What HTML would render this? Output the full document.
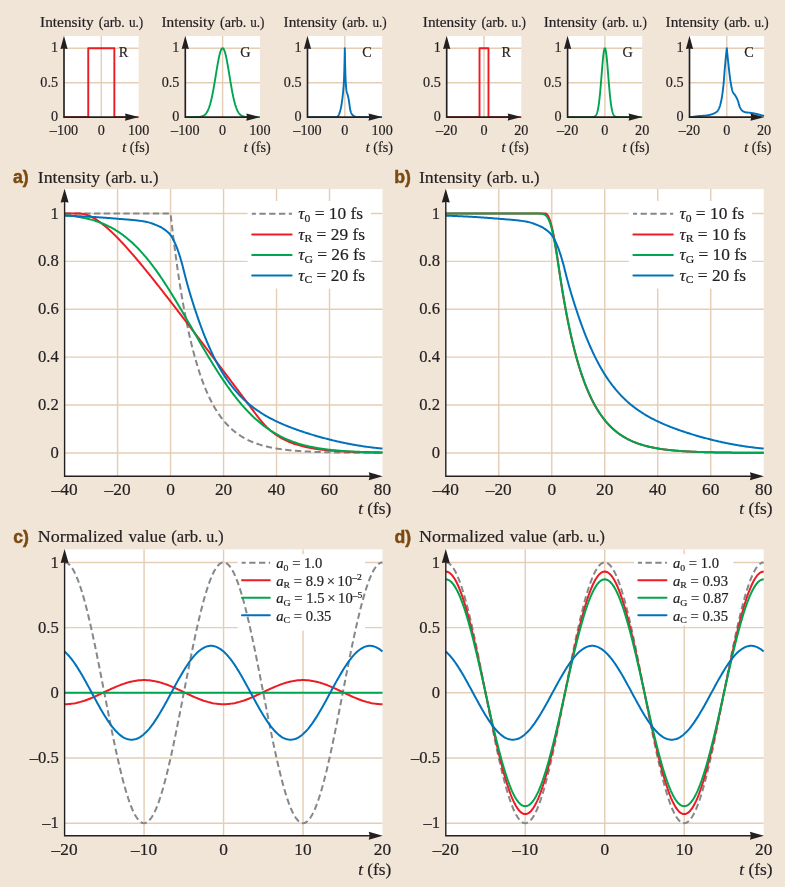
<!DOCTYPE html>
<html lang="en"><head><meta charset="utf-8"><title>Figure</title>
<style>html,body{margin:0;padding:0;background:#f1e5d8}body{width:785px;height:887px;overflow:hidden}</style></head>
<body>
<svg width="785" height="887" viewBox="0 0 785 887" style="display:block">
<rect width="785" height="887" fill="#f1e5d8"/>
<rect x="64" y="36" width="74.6" height="81.1" fill="#fff"/>
<path d="M64 48.2 H138.6" stroke="#e5ceb5" stroke-width="1.45" fill="none"/>
<path d="M64 82.65 H138.6" stroke="#e5ceb5" stroke-width="1.45" fill="none"/>
<path d="M101.3 36 V117.1" stroke="#e5ceb5" stroke-width="1.45" fill="none"/>
<path d="M64 117.1 L88.25 117.1 L88.25 48.2 L114.35 48.2 L114.35 117.1 L138.6 117.1" stroke="#ec1c24" stroke-width="1.9" fill="none" stroke-linejoin="round"/>
<path d="M64 44 V117.1 H130.6" stroke="#231f20" stroke-width="1.65" fill="none"/>
<path d="M64 35.8 L60.4 49 L64 48.6 L67.6 49 Z" fill="#231f20"/>
<path d="M138.8 117.1 L125 113.5 L125.8 117.1 L125 120.7 Z" fill="#231f20"/>
<text y="27.3" font-family="'Liberation Serif', serif" font-size="14.2" fill="#231f20" stroke="#231f20" stroke-width="0.2"><tspan x="40.1" textLength="53.6" lengthAdjust="spacingAndGlyphs">Intensity</tspan> <tspan x="98.7" textLength="26.2" lengthAdjust="spacingAndGlyphs">(arb.</tspan> <tspan x="128.9" textLength="14.3" lengthAdjust="spacingAndGlyphs">u.)</tspan></text>
<text transform="translate(58.1 52.1) scale(1.0 1)" font-family="'Liberation Serif', serif" font-size="14.2" text-anchor="end" fill="#231f20" stroke="#231f20" stroke-width="0.2">1</text>
<text transform="translate(58.1 86.55) scale(1.0 1)" font-family="'Liberation Serif', serif" font-size="14.2" text-anchor="end" fill="#231f20" stroke="#231f20" stroke-width="0.2">0.5</text>
<text transform="translate(58.1 121) scale(1.0 1)" font-family="'Liberation Serif', serif" font-size="14.2" text-anchor="end" fill="#231f20" stroke="#231f20" stroke-width="0.2">0</text>
<text transform="translate(64 134.6) scale(1.0 1)" font-family="'Liberation Serif', serif" font-size="14.2" text-anchor="middle" fill="#231f20" stroke="#231f20" stroke-width="0.2">–100</text>
<text transform="translate(101.3 134.6) scale(1.0 1)" font-family="'Liberation Serif', serif" font-size="14.2" text-anchor="middle" fill="#231f20" stroke="#231f20" stroke-width="0.2">0</text>
<text transform="translate(138.6 134.6) scale(1.0 1)" font-family="'Liberation Serif', serif" font-size="14.2" text-anchor="middle" fill="#231f20" stroke="#231f20" stroke-width="0.2">100</text>
<text transform="translate(149.55 151.5) scale(1.0 1)" font-family="'Liberation Serif', serif" font-size="14.2" text-anchor="end" fill="#231f20" stroke="#231f20" stroke-width="0.2"><tspan font-style="italic">t</tspan> (fs)</text>
<text transform="translate(118.83 57.4) scale(1.0 1)" font-family="'Liberation Serif', serif" font-size="14.2" text-anchor="start" fill="#231f20" stroke="#231f20" stroke-width="0.2">R</text>
<rect x="185.3" y="36" width="74.6" height="81.1" fill="#fff"/>
<path d="M185.3 48.2 H259.9" stroke="#e5ceb5" stroke-width="1.45" fill="none"/>
<path d="M185.3 82.65 H259.9" stroke="#e5ceb5" stroke-width="1.45" fill="none"/>
<path d="M222.6 36 V117.1" stroke="#e5ceb5" stroke-width="1.45" fill="none"/>
<path d="M185.3 117.1 L185.49 117.1 L185.67 117.1 L185.86 117.1 L186.05 117.1 L186.23 117.1 L186.42 117.1 L186.61 117.1 L186.79 117.1 L186.98 117.1 L187.17 117.1 L187.35 117.1 L187.54 117.1 L187.72 117.1 L187.91 117.1 L188.1 117.1 L188.28 117.1 L188.47 117.1 L188.66 117.1 L188.84 117.1 L189.03 117.1 L189.22 117.1 L189.4 117.1 L189.59 117.1 L189.78 117.1 L189.96 117.1 L190.15 117.1 L190.34 117.1 L190.52 117.1 L190.71 117.1 L190.9 117.1 L191.08 117.1 L191.27 117.1 L191.45 117.1 L191.64 117.1 L191.83 117.1 L192.01 117.1 L192.2 117.1 L192.39 117.1 L192.57 117.1 L192.76 117.1 L192.95 117.09 L193.13 117.09 L193.32 117.09 L193.51 117.09 L193.69 117.09 L193.88 117.09 L194.07 117.09 L194.25 117.09 L194.44 117.09 L194.63 117.09 L194.81 117.08 L195 117.08 L195.18 117.08 L195.37 117.08 L195.56 117.07 L195.74 117.07 L195.93 117.07 L196.12 117.06 L196.3 117.06 L196.49 117.06 L196.68 117.05 L196.86 117.05 L197.05 117.04 L197.24 117.03 L197.42 117.03 L197.61 117.02 L197.8 117.01 L197.98 117 L198.17 116.99 L198.36 116.98 L198.54 116.97 L198.73 116.95 L198.91 116.94 L199.1 116.92 L199.29 116.9 L199.47 116.88 L199.66 116.86 L199.85 116.84 L200.03 116.82 L200.22 116.79 L200.41 116.76 L200.59 116.73 L200.78 116.69 L200.97 116.66 L201.15 116.62 L201.34 116.57 L201.53 116.53 L201.71 116.47 L201.9 116.42 L202.09 116.36 L202.27 116.3 L202.46 116.23 L202.64 116.16 L202.83 116.08 L203.02 116 L203.2 115.91 L203.39 115.81 L203.58 115.71 L203.76 115.6 L203.95 115.48 L204.14 115.35 L204.32 115.22 L204.51 115.08 L204.7 114.92 L204.88 114.76 L205.07 114.59 L205.26 114.41 L205.44 114.21 L205.63 114.01 L205.82 113.79 L206 113.56 L206.19 113.32 L206.37 113.06 L206.56 112.79 L206.75 112.51 L206.93 112.21 L207.12 111.89 L207.31 111.56 L207.49 111.21 L207.68 110.84 L207.87 110.46 L208.05 110.06 L208.24 109.64 L208.43 109.2 L208.61 108.74 L208.8 108.26 L208.99 107.75 L209.17 107.23 L209.36 106.69 L209.55 106.12 L209.73 105.54 L209.92 104.93 L210.1 104.3 L210.29 103.64 L210.48 102.96 L210.66 102.26 L210.85 101.54 L211.04 100.79 L211.22 100.02 L211.41 99.23 L211.6 98.42 L211.78 97.58 L211.97 96.72 L212.16 95.84 L212.34 94.93 L212.53 94.01 L212.72 93.06 L212.9 92.1 L213.09 91.11 L213.28 90.11 L213.46 89.09 L213.65 88.05 L213.83 87 L214.02 85.93 L214.21 84.85 L214.39 83.76 L214.58 82.65 L214.77 81.53 L214.95 80.41 L215.14 79.28 L215.33 78.14 L215.51 77 L215.7 75.86 L215.89 74.71 L216.07 73.57 L216.26 72.43 L216.45 71.29 L216.63 70.16 L216.82 69.04 L217.01 67.93 L217.19 66.83 L217.38 65.75 L217.56 64.68 L217.75 63.62 L217.94 62.59 L218.12 61.58 L218.31 60.59 L218.5 59.63 L218.68 58.7 L218.87 57.79 L219.06 56.92 L219.24 56.08 L219.43 55.27 L219.62 54.5 L219.8 53.77 L219.99 53.08 L220.18 52.43 L220.36 51.82 L220.55 51.26 L220.74 50.74 L220.92 50.26 L221.11 49.83 L221.29 49.45 L221.48 49.12 L221.67 48.84 L221.85 48.61 L222.04 48.43 L222.23 48.3 L222.41 48.23 L222.6 48.2 L222.79 48.23 L222.97 48.3 L223.16 48.43 L223.35 48.61 L223.53 48.84 L223.72 49.12 L223.91 49.45 L224.09 49.83 L224.28 50.26 L224.47 50.74 L224.65 51.26 L224.84 51.82 L225.02 52.43 L225.21 53.08 L225.4 53.77 L225.58 54.5 L225.77 55.27 L225.96 56.08 L226.14 56.92 L226.33 57.79 L226.52 58.7 L226.7 59.63 L226.89 60.59 L227.08 61.58 L227.26 62.59 L227.45 63.62 L227.64 64.68 L227.82 65.75 L228.01 66.83 L228.2 67.93 L228.38 69.04 L228.57 70.16 L228.75 71.29 L228.94 72.43 L229.13 73.57 L229.31 74.71 L229.5 75.86 L229.69 77 L229.87 78.14 L230.06 79.28 L230.25 80.41 L230.43 81.53 L230.62 82.65 L230.81 83.76 L230.99 84.85 L231.18 85.93 L231.37 87 L231.55 88.05 L231.74 89.09 L231.93 90.11 L232.11 91.11 L232.3 92.1 L232.48 93.06 L232.67 94.01 L232.86 94.93 L233.04 95.84 L233.23 96.72 L233.42 97.58 L233.6 98.42 L233.79 99.23 L233.98 100.02 L234.16 100.79 L234.35 101.54 L234.54 102.26 L234.72 102.96 L234.91 103.64 L235.1 104.3 L235.28 104.93 L235.47 105.54 L235.66 106.12 L235.84 106.69 L236.03 107.23 L236.21 107.75 L236.4 108.26 L236.59 108.74 L236.77 109.2 L236.96 109.64 L237.15 110.06 L237.33 110.46 L237.52 110.84 L237.71 111.21 L237.89 111.56 L238.08 111.89 L238.27 112.21 L238.45 112.51 L238.64 112.79 L238.83 113.06 L239.01 113.32 L239.2 113.56 L239.39 113.79 L239.57 114.01 L239.76 114.21 L239.94 114.41 L240.13 114.59 L240.32 114.76 L240.5 114.92 L240.69 115.08 L240.88 115.22 L241.06 115.35 L241.25 115.48 L241.44 115.6 L241.62 115.71 L241.81 115.81 L242 115.91 L242.18 116 L242.37 116.08 L242.56 116.16 L242.74 116.23 L242.93 116.3 L243.12 116.36 L243.3 116.42 L243.49 116.47 L243.67 116.53 L243.86 116.57 L244.05 116.62 L244.23 116.66 L244.42 116.69 L244.61 116.73 L244.79 116.76 L244.98 116.79 L245.17 116.82 L245.35 116.84 L245.54 116.86 L245.73 116.88 L245.91 116.9 L246.1 116.92 L246.29 116.94 L246.47 116.95 L246.66 116.97 L246.85 116.98 L247.03 116.99 L247.22 117 L247.4 117.01 L247.59 117.02 L247.78 117.03 L247.96 117.03 L248.15 117.04 L248.34 117.05 L248.52 117.05 L248.71 117.06 L248.9 117.06 L249.08 117.06 L249.27 117.07 L249.46 117.07 L249.64 117.07 L249.83 117.08 L250.02 117.08 L250.2 117.08 L250.39 117.08 L250.58 117.09 L250.76 117.09 L250.95 117.09 L251.13 117.09 L251.32 117.09 L251.51 117.09 L251.69 117.09 L251.88 117.09 L252.07 117.09 L252.25 117.09 L252.44 117.1 L252.63 117.1 L252.81 117.1 L253 117.1 L253.19 117.1 L253.37 117.1 L253.56 117.1 L253.75 117.1 L253.93 117.1 L254.12 117.1 L254.31 117.1 L254.49 117.1 L254.68 117.1 L254.86 117.1 L255.05 117.1 L255.24 117.1 L255.42 117.1 L255.61 117.1 L255.8 117.1 L255.98 117.1 L256.17 117.1 L256.36 117.1 L256.54 117.1 L256.73 117.1 L256.92 117.1 L257.1 117.1 L257.29 117.1 L257.48 117.1 L257.66 117.1 L257.85 117.1 L258.04 117.1 L258.22 117.1 L258.41 117.1 L258.59 117.1 L258.78 117.1 L258.97 117.1 L259.15 117.1 L259.34 117.1 L259.53 117.1 L259.71 117.1 L259.9 117.1" stroke="#00a550" stroke-width="1.9" fill="none" stroke-linejoin="round"/>
<path d="M185.3 44 V117.1 H251.9" stroke="#231f20" stroke-width="1.65" fill="none"/>
<path d="M185.3 35.8 L181.7 49 L185.3 48.6 L188.9 49 Z" fill="#231f20"/>
<path d="M260.1 117.1 L246.3 113.5 L247.1 117.1 L246.3 120.7 Z" fill="#231f20"/>
<text y="27.3" font-family="'Liberation Serif', serif" font-size="14.2" fill="#231f20" stroke="#231f20" stroke-width="0.2"><tspan x="161.4" textLength="53.6" lengthAdjust="spacingAndGlyphs">Intensity</tspan> <tspan x="220" textLength="26.2" lengthAdjust="spacingAndGlyphs">(arb.</tspan> <tspan x="250.2" textLength="14.3" lengthAdjust="spacingAndGlyphs">u.)</tspan></text>
<text transform="translate(179.4 52.1) scale(1.0 1)" font-family="'Liberation Serif', serif" font-size="14.2" text-anchor="end" fill="#231f20" stroke="#231f20" stroke-width="0.2">1</text>
<text transform="translate(179.4 86.55) scale(1.0 1)" font-family="'Liberation Serif', serif" font-size="14.2" text-anchor="end" fill="#231f20" stroke="#231f20" stroke-width="0.2">0.5</text>
<text transform="translate(179.4 121) scale(1.0 1)" font-family="'Liberation Serif', serif" font-size="14.2" text-anchor="end" fill="#231f20" stroke="#231f20" stroke-width="0.2">0</text>
<text transform="translate(185.3 134.6) scale(1.0 1)" font-family="'Liberation Serif', serif" font-size="14.2" text-anchor="middle" fill="#231f20" stroke="#231f20" stroke-width="0.2">–100</text>
<text transform="translate(222.6 134.6) scale(1.0 1)" font-family="'Liberation Serif', serif" font-size="14.2" text-anchor="middle" fill="#231f20" stroke="#231f20" stroke-width="0.2">0</text>
<text transform="translate(259.9 134.6) scale(1.0 1)" font-family="'Liberation Serif', serif" font-size="14.2" text-anchor="middle" fill="#231f20" stroke="#231f20" stroke-width="0.2">100</text>
<text transform="translate(270.85 151.5) scale(1.0 1)" font-family="'Liberation Serif', serif" font-size="14.2" text-anchor="end" fill="#231f20" stroke="#231f20" stroke-width="0.2"><tspan font-style="italic">t</tspan> (fs)</text>
<text transform="translate(240.13 57.4) scale(1.0 1)" font-family="'Liberation Serif', serif" font-size="14.2" text-anchor="start" fill="#231f20" stroke="#231f20" stroke-width="0.2">G</text>
<rect x="307.5" y="36" width="74.6" height="81.1" fill="#fff"/>
<path d="M307.5 48.2 H382.1" stroke="#e5ceb5" stroke-width="1.45" fill="none"/>
<path d="M307.5 82.65 H382.1" stroke="#e5ceb5" stroke-width="1.45" fill="none"/>
<path d="M344.8 36 V117.1" stroke="#e5ceb5" stroke-width="1.45" fill="none"/>
<path d="M307.5 117.1 L307.69 117.1 L307.87 117.1 L308.06 117.1 L308.25 117.1 L308.43 117.1 L308.62 117.1 L308.81 117.1 L308.99 117.1 L309.18 117.1 L309.37 117.1 L309.55 117.1 L309.74 117.1 L309.92 117.1 L310.11 117.1 L310.3 117.1 L310.48 117.1 L310.67 117.1 L310.86 117.1 L311.04 117.1 L311.23 117.1 L311.42 117.1 L311.6 117.1 L311.79 117.1 L311.98 117.1 L312.16 117.1 L312.35 117.1 L312.54 117.1 L312.72 117.1 L312.91 117.1 L313.1 117.1 L313.28 117.1 L313.47 117.1 L313.65 117.1 L313.84 117.1 L314.03 117.1 L314.21 117.1 L314.4 117.1 L314.59 117.1 L314.77 117.1 L314.96 117.1 L315.15 117.1 L315.33 117.1 L315.52 117.1 L315.71 117.1 L315.89 117.1 L316.08 117.1 L316.27 117.1 L316.45 117.1 L316.64 117.1 L316.82 117.1 L317.01 117.1 L317.2 117.1 L317.38 117.1 L317.57 117.1 L317.76 117.1 L317.94 117.1 L318.13 117.1 L318.32 117.1 L318.5 117.1 L318.69 117.1 L318.88 117.1 L319.06 117.1 L319.25 117.1 L319.44 117.1 L319.62 117.1 L319.81 117.1 L320 117.1 L320.18 117.1 L320.37 117.1 L320.56 117.1 L320.74 117.1 L320.93 117.1 L321.11 117.1 L321.3 117.1 L321.49 117.1 L321.67 117.1 L321.86 117.1 L322.05 117.1 L322.23 117.1 L322.42 117.1 L322.61 117.1 L322.79 117.1 L322.98 117.1 L323.17 117.1 L323.35 117.1 L323.54 117.1 L323.73 117.1 L323.91 117.1 L324.1 117.1 L324.29 117.1 L324.47 117.1 L324.66 117.1 L324.84 117.1 L325.03 117.1 L325.22 117.1 L325.4 117.1 L325.59 117.1 L325.78 117.1 L325.96 117.1 L326.15 117.1 L326.34 117.1 L326.52 117.1 L326.71 117.1 L326.9 117.1 L327.08 117.1 L327.27 117.1 L327.46 117.1 L327.64 117.1 L327.83 117.1 L328.01 117.1 L328.2 117.1 L328.39 117.1 L328.57 117.1 L328.76 117.1 L328.95 117.1 L329.13 117.1 L329.32 117.1 L329.51 117.1 L329.69 117.1 L329.88 117.1 L330.07 117.1 L330.25 117.1 L330.44 117.1 L330.63 117.1 L330.81 117.1 L331 117.1 L331.19 117.1 L331.37 117.1 L331.56 117.1 L331.75 117.1 L331.93 117.1 L332.12 117.1 L332.3 117.1 L332.49 117.1 L332.68 117.1 L332.86 117.1 L333.05 117.1 L333.24 117.1 L333.42 117.1 L333.61 117.1 L333.8 117.1 L333.98 117.1 L334.17 117.1 L334.36 117.1 L334.54 117.1 L334.73 117.1 L334.92 117.1 L335.1 117.1 L335.29 117.1 L335.48 117.1 L335.66 117.1 L335.85 117.1 L336.03 117.1 L336.22 117.1 L336.41 117.1 L336.59 117.1 L336.78 117.09 L336.97 117.03 L337.15 116.93 L337.34 116.79 L337.53 116.6 L337.71 116.39 L337.9 116.15 L338.09 115.88 L338.27 115.6 L338.46 115.3 L338.65 115 L338.83 114.69 L339.02 114.34 L339.2 113.93 L339.39 113.45 L339.58 112.92 L339.76 112.34 L339.95 111.72 L340.14 111.06 L340.32 110.37 L340.51 109.65 L340.7 108.87 L340.88 108.02 L341.07 107.09 L341.26 106.09 L341.44 105.02 L341.63 103.89 L341.82 102.71 L342 101.46 L342.19 100.12 L342.38 98.68 L342.56 97.13 L342.75 95.46 L342.94 93.67 L343.12 91.73 L343.31 89.7 L343.49 87.54 L343.68 85.08 L343.87 82.13 L344.05 78.52 L344.24 73.36 L344.43 66.26 L344.61 57.7 L344.8 48.2 L344.99 57.81 L345.17 66.44 L345.36 73.53 L345.55 78.52 L345.73 81.99 L345.92 84.92 L346.11 87.3 L346.29 89.14 L346.48 90.45 L346.67 91.44 L346.85 92.25 L347.04 92.91 L347.22 93.49 L347.41 94.04 L347.6 94.58 L347.78 95.19 L347.97 95.9 L348.16 96.74 L348.34 97.68 L348.53 98.68 L348.72 99.74 L348.9 100.85 L349.09 101.99 L349.28 103.23 L349.46 104.66 L349.65 106.16 L349.84 107.6 L350.02 108.86 L350.21 109.8 L350.4 110.51 L350.58 111.16 L350.77 111.75 L350.95 112.29 L351.14 112.77 L351.33 113.2 L351.51 113.58 L351.7 113.91 L351.89 114.19 L352.07 114.44 L352.26 114.68 L352.45 114.9 L352.63 115.1 L352.82 115.29 L353.01 115.46 L353.19 115.62 L353.38 115.76 L353.57 115.89 L353.75 116.01 L353.94 116.12 L354.12 116.21 L354.31 116.31 L354.5 116.4 L354.68 116.5 L354.87 116.59 L355.06 116.67 L355.24 116.75 L355.43 116.83 L355.62 116.89 L355.8 116.95 L355.99 117 L356.18 117.04 L356.36 117.07 L356.55 117.09 L356.74 117.1 L356.92 117.1 L357.11 117.1 L357.3 117.1 L357.48 117.1 L357.67 117.1 L357.86 117.1 L358.04 117.1 L358.23 117.1 L358.41 117.1 L358.6 117.1 L358.79 117.1 L358.97 117.1 L359.16 117.1 L359.35 117.1 L359.53 117.1 L359.72 117.1 L359.91 117.1 L360.09 117.1 L360.28 117.1 L360.47 117.1 L360.65 117.1 L360.84 117.1 L361.03 117.1 L361.21 117.1 L361.4 117.1 L361.59 117.1 L361.77 117.1 L361.96 117.1 L362.14 117.1 L362.33 117.1 L362.52 117.1 L362.7 117.1 L362.89 117.1 L363.08 117.1 L363.26 117.1 L363.45 117.1 L363.64 117.1 L363.82 117.1 L364.01 117.1 L364.2 117.1 L364.38 117.1 L364.57 117.1 L364.76 117.1 L364.94 117.1 L365.13 117.1 L365.31 117.1 L365.5 117.1 L365.69 117.1 L365.87 117.1 L366.06 117.1 L366.25 117.1 L366.43 117.1 L366.62 117.1 L366.81 117.1 L366.99 117.1 L367.18 117.1 L367.37 117.1 L367.55 117.1 L367.74 117.1 L367.93 117.1 L368.11 117.1 L368.3 117.1 L368.49 117.1 L368.67 117.1 L368.86 117.1 L369.05 117.1 L369.23 117.1 L369.42 117.1 L369.6 117.1 L369.79 117.1 L369.98 117.1 L370.16 117.1 L370.35 117.1 L370.54 117.1 L370.72 117.1 L370.91 117.1 L371.1 117.1 L371.28 117.1 L371.47 117.1 L371.66 117.1 L371.84 117.1 L372.03 117.1 L372.22 117.1 L372.4 117.1 L372.59 117.1 L372.78 117.1 L372.96 117.1 L373.15 117.1 L373.33 117.1 L373.52 117.1 L373.71 117.1 L373.89 117.1 L374.08 117.1 L374.27 117.1 L374.45 117.1 L374.64 117.1 L374.83 117.1 L375.01 117.1 L375.2 117.1 L375.39 117.1 L375.57 117.1 L375.76 117.1 L375.95 117.1 L376.13 117.1 L376.32 117.1 L376.5 117.1 L376.69 117.1 L376.88 117.1 L377.06 117.1 L377.25 117.1 L377.44 117.1 L377.62 117.1 L377.81 117.1 L378 117.1 L378.18 117.1 L378.37 117.1 L378.56 117.1 L378.74 117.1 L378.93 117.1 L379.12 117.1 L379.3 117.1 L379.49 117.1 L379.68 117.1 L379.86 117.1 L380.05 117.1 L380.24 117.1 L380.42 117.1 L380.61 117.1 L380.79 117.1 L380.98 117.1 L381.17 117.1 L381.35 117.1 L381.54 117.1 L381.73 117.1 L381.91 117.1 L382.1 117.1" stroke="#0072bc" stroke-width="1.9" fill="none" stroke-linejoin="round"/>
<path d="M307.5 44 V117.1 H374.1" stroke="#231f20" stroke-width="1.65" fill="none"/>
<path d="M307.5 35.8 L303.9 49 L307.5 48.6 L311.1 49 Z" fill="#231f20"/>
<path d="M382.3 117.1 L368.5 113.5 L369.3 117.1 L368.5 120.7 Z" fill="#231f20"/>
<text y="27.3" font-family="'Liberation Serif', serif" font-size="14.2" fill="#231f20" stroke="#231f20" stroke-width="0.2"><tspan x="283.6" textLength="53.6" lengthAdjust="spacingAndGlyphs">Intensity</tspan> <tspan x="342.2" textLength="26.2" lengthAdjust="spacingAndGlyphs">(arb.</tspan> <tspan x="372.4" textLength="14.3" lengthAdjust="spacingAndGlyphs">u.)</tspan></text>
<text transform="translate(301.6 52.1) scale(1.0 1)" font-family="'Liberation Serif', serif" font-size="14.2" text-anchor="end" fill="#231f20" stroke="#231f20" stroke-width="0.2">1</text>
<text transform="translate(301.6 86.55) scale(1.0 1)" font-family="'Liberation Serif', serif" font-size="14.2" text-anchor="end" fill="#231f20" stroke="#231f20" stroke-width="0.2">0.5</text>
<text transform="translate(301.6 121) scale(1.0 1)" font-family="'Liberation Serif', serif" font-size="14.2" text-anchor="end" fill="#231f20" stroke="#231f20" stroke-width="0.2">0</text>
<text transform="translate(307.5 134.6) scale(1.0 1)" font-family="'Liberation Serif', serif" font-size="14.2" text-anchor="middle" fill="#231f20" stroke="#231f20" stroke-width="0.2">–100</text>
<text transform="translate(344.8 134.6) scale(1.0 1)" font-family="'Liberation Serif', serif" font-size="14.2" text-anchor="middle" fill="#231f20" stroke="#231f20" stroke-width="0.2">0</text>
<text transform="translate(382.1 134.6) scale(1.0 1)" font-family="'Liberation Serif', serif" font-size="14.2" text-anchor="middle" fill="#231f20" stroke="#231f20" stroke-width="0.2">100</text>
<text transform="translate(393.05 151.5) scale(1.0 1)" font-family="'Liberation Serif', serif" font-size="14.2" text-anchor="end" fill="#231f20" stroke="#231f20" stroke-width="0.2"><tspan font-style="italic">t</tspan> (fs)</text>
<text transform="translate(362.33 57.4) scale(1.0 1)" font-family="'Liberation Serif', serif" font-size="14.2" text-anchor="start" fill="#231f20" stroke="#231f20" stroke-width="0.2">C</text>
<rect x="446.7" y="36" width="74.6" height="81.1" fill="#fff"/>
<path d="M446.7 48.2 H521.3" stroke="#e5ceb5" stroke-width="1.45" fill="none"/>
<path d="M446.7 82.65 H521.3" stroke="#e5ceb5" stroke-width="1.45" fill="none"/>
<path d="M484 36 V117.1" stroke="#e5ceb5" stroke-width="1.45" fill="none"/>
<path d="M446.7 117.1 L479.52 117.1 L479.52 48.2 L488.48 48.2 L488.48 117.1 L521.3 117.1" stroke="#ec1c24" stroke-width="1.9" fill="none" stroke-linejoin="round"/>
<path d="M446.7 44 V117.1 H513.3" stroke="#231f20" stroke-width="1.65" fill="none"/>
<path d="M446.7 35.8 L443.1 49 L446.7 48.6 L450.3 49 Z" fill="#231f20"/>
<path d="M521.5 117.1 L507.7 113.5 L508.5 117.1 L507.7 120.7 Z" fill="#231f20"/>
<text y="27.3" font-family="'Liberation Serif', serif" font-size="14.2" fill="#231f20" stroke="#231f20" stroke-width="0.2"><tspan x="422.8" textLength="53.6" lengthAdjust="spacingAndGlyphs">Intensity</tspan> <tspan x="481.4" textLength="26.2" lengthAdjust="spacingAndGlyphs">(arb.</tspan> <tspan x="511.6" textLength="14.3" lengthAdjust="spacingAndGlyphs">u.)</tspan></text>
<text transform="translate(440.8 52.1) scale(1.0 1)" font-family="'Liberation Serif', serif" font-size="14.2" text-anchor="end" fill="#231f20" stroke="#231f20" stroke-width="0.2">1</text>
<text transform="translate(440.8 86.55) scale(1.0 1)" font-family="'Liberation Serif', serif" font-size="14.2" text-anchor="end" fill="#231f20" stroke="#231f20" stroke-width="0.2">0.5</text>
<text transform="translate(440.8 121) scale(1.0 1)" font-family="'Liberation Serif', serif" font-size="14.2" text-anchor="end" fill="#231f20" stroke="#231f20" stroke-width="0.2">0</text>
<text transform="translate(446.7 134.6) scale(1.0 1)" font-family="'Liberation Serif', serif" font-size="14.2" text-anchor="middle" fill="#231f20" stroke="#231f20" stroke-width="0.2">–20</text>
<text transform="translate(484 134.6) scale(1.0 1)" font-family="'Liberation Serif', serif" font-size="14.2" text-anchor="middle" fill="#231f20" stroke="#231f20" stroke-width="0.2">0</text>
<text transform="translate(521.3 134.6) scale(1.0 1)" font-family="'Liberation Serif', serif" font-size="14.2" text-anchor="middle" fill="#231f20" stroke="#231f20" stroke-width="0.2">20</text>
<text transform="translate(528.7 151.5) scale(1.0 1)" font-family="'Liberation Serif', serif" font-size="14.2" text-anchor="end" fill="#231f20" stroke="#231f20" stroke-width="0.2"><tspan font-style="italic">t</tspan> (fs)</text>
<text transform="translate(501.53 57.4) scale(1.0 1)" font-family="'Liberation Serif', serif" font-size="14.2" text-anchor="start" fill="#231f20" stroke="#231f20" stroke-width="0.2">R</text>
<rect x="567.6" y="36" width="74.6" height="81.1" fill="#fff"/>
<path d="M567.6 48.2 H642.2" stroke="#e5ceb5" stroke-width="1.45" fill="none"/>
<path d="M567.6 82.65 H642.2" stroke="#e5ceb5" stroke-width="1.45" fill="none"/>
<path d="M604.9 36 V117.1" stroke="#e5ceb5" stroke-width="1.45" fill="none"/>
<path d="M567.6 117.1 L567.79 117.1 L567.97 117.1 L568.16 117.1 L568.35 117.1 L568.53 117.1 L568.72 117.1 L568.91 117.1 L569.09 117.1 L569.28 117.1 L569.47 117.1 L569.65 117.1 L569.84 117.1 L570.02 117.1 L570.21 117.1 L570.4 117.1 L570.58 117.1 L570.77 117.1 L570.96 117.1 L571.14 117.1 L571.33 117.1 L571.52 117.1 L571.7 117.1 L571.89 117.1 L572.08 117.1 L572.26 117.1 L572.45 117.1 L572.64 117.1 L572.82 117.1 L573.01 117.1 L573.19 117.1 L573.38 117.1 L573.57 117.1 L573.75 117.1 L573.94 117.1 L574.13 117.1 L574.31 117.1 L574.5 117.1 L574.69 117.1 L574.87 117.1 L575.06 117.1 L575.25 117.1 L575.43 117.1 L575.62 117.1 L575.81 117.1 L575.99 117.1 L576.18 117.1 L576.37 117.1 L576.55 117.1 L576.74 117.1 L576.92 117.1 L577.11 117.1 L577.3 117.1 L577.48 117.1 L577.67 117.1 L577.86 117.1 L578.04 117.1 L578.23 117.1 L578.42 117.1 L578.6 117.1 L578.79 117.1 L578.98 117.1 L579.16 117.1 L579.35 117.1 L579.54 117.1 L579.72 117.1 L579.91 117.1 L580.1 117.1 L580.28 117.1 L580.47 117.1 L580.65 117.1 L580.84 117.1 L581.03 117.1 L581.21 117.1 L581.4 117.1 L581.59 117.1 L581.77 117.1 L581.96 117.1 L582.15 117.1 L582.33 117.1 L582.52 117.1 L582.71 117.1 L582.89 117.1 L583.08 117.1 L583.27 117.1 L583.45 117.1 L583.64 117.1 L583.83 117.1 L584.01 117.1 L584.2 117.1 L584.38 117.1 L584.57 117.1 L584.76 117.1 L584.94 117.1 L585.13 117.1 L585.32 117.1 L585.5 117.1 L585.69 117.1 L585.88 117.1 L586.06 117.1 L586.25 117.1 L586.44 117.1 L586.62 117.1 L586.81 117.1 L587 117.1 L587.18 117.1 L587.37 117.1 L587.56 117.1 L587.74 117.1 L587.93 117.1 L588.12 117.1 L588.3 117.1 L588.49 117.1 L588.67 117.1 L588.86 117.1 L589.05 117.1 L589.23 117.1 L589.42 117.1 L589.61 117.1 L589.79 117.1 L589.98 117.1 L590.17 117.1 L590.35 117.1 L590.54 117.09 L590.73 117.09 L590.91 117.09 L591.1 117.09 L591.29 117.08 L591.47 117.08 L591.66 117.08 L591.85 117.07 L592.03 117.06 L592.22 117.05 L592.4 117.04 L592.59 117.03 L592.78 117.01 L592.96 116.99 L593.15 116.97 L593.34 116.94 L593.52 116.9 L593.71 116.86 L593.9 116.81 L594.08 116.75 L594.27 116.68 L594.46 116.6 L594.64 116.51 L594.83 116.4 L595.02 116.27 L595.2 116.12 L595.39 115.94 L595.57 115.75 L595.76 115.52 L595.95 115.26 L596.13 114.96 L596.32 114.62 L596.51 114.24 L596.69 113.81 L596.88 113.33 L597.07 112.79 L597.25 112.19 L597.44 111.53 L597.63 110.79 L597.81 109.98 L598 109.09 L598.19 108.11 L598.37 107.05 L598.56 105.9 L598.75 104.66 L598.93 103.32 L599.12 101.89 L599.3 100.36 L599.49 98.73 L599.68 97.01 L599.86 95.19 L600.05 93.29 L600.24 91.3 L600.42 89.24 L600.61 87.1 L600.8 84.9 L600.98 82.65 L601.17 80.36 L601.36 78.03 L601.54 75.69 L601.73 73.35 L601.92 71.02 L602.1 68.72 L602.29 66.47 L602.48 64.27 L602.66 62.16 L602.85 60.13 L603.03 58.22 L603.22 56.44 L603.41 54.79 L603.59 53.31 L603.78 51.99 L603.97 50.85 L604.15 49.91 L604.34 49.17 L604.53 48.63 L604.71 48.31 L604.9 48.2 L605.09 48.31 L605.27 48.63 L605.46 49.17 L605.65 49.91 L605.83 50.85 L606.02 51.99 L606.21 53.31 L606.39 54.79 L606.58 56.44 L606.76 58.22 L606.95 60.13 L607.14 62.16 L607.32 64.27 L607.51 66.47 L607.7 68.72 L607.88 71.02 L608.07 73.35 L608.26 75.69 L608.44 78.03 L608.63 80.36 L608.82 82.65 L609 84.9 L609.19 87.1 L609.38 89.24 L609.56 91.3 L609.75 93.29 L609.94 95.19 L610.12 97.01 L610.31 98.73 L610.5 100.36 L610.68 101.89 L610.87 103.32 L611.05 104.66 L611.24 105.9 L611.43 107.05 L611.61 108.11 L611.8 109.09 L611.99 109.98 L612.17 110.79 L612.36 111.53 L612.55 112.19 L612.73 112.79 L612.92 113.33 L613.11 113.81 L613.29 114.24 L613.48 114.62 L613.67 114.96 L613.85 115.26 L614.04 115.52 L614.23 115.75 L614.41 115.94 L614.6 116.12 L614.78 116.27 L614.97 116.4 L615.16 116.51 L615.34 116.6 L615.53 116.68 L615.72 116.75 L615.9 116.81 L616.09 116.86 L616.28 116.9 L616.46 116.94 L616.65 116.97 L616.84 116.99 L617.02 117.01 L617.21 117.03 L617.4 117.04 L617.58 117.05 L617.77 117.06 L617.95 117.07 L618.14 117.08 L618.33 117.08 L618.51 117.08 L618.7 117.09 L618.89 117.09 L619.07 117.09 L619.26 117.09 L619.45 117.1 L619.63 117.1 L619.82 117.1 L620.01 117.1 L620.19 117.1 L620.38 117.1 L620.57 117.1 L620.75 117.1 L620.94 117.1 L621.13 117.1 L621.31 117.1 L621.5 117.1 L621.68 117.1 L621.87 117.1 L622.06 117.1 L622.24 117.1 L622.43 117.1 L622.62 117.1 L622.8 117.1 L622.99 117.1 L623.18 117.1 L623.36 117.1 L623.55 117.1 L623.74 117.1 L623.92 117.1 L624.11 117.1 L624.3 117.1 L624.48 117.1 L624.67 117.1 L624.86 117.1 L625.04 117.1 L625.23 117.1 L625.41 117.1 L625.6 117.1 L625.79 117.1 L625.97 117.1 L626.16 117.1 L626.35 117.1 L626.53 117.1 L626.72 117.1 L626.91 117.1 L627.09 117.1 L627.28 117.1 L627.47 117.1 L627.65 117.1 L627.84 117.1 L628.03 117.1 L628.21 117.1 L628.4 117.1 L628.59 117.1 L628.77 117.1 L628.96 117.1 L629.14 117.1 L629.33 117.1 L629.52 117.1 L629.7 117.1 L629.89 117.1 L630.08 117.1 L630.26 117.1 L630.45 117.1 L630.64 117.1 L630.82 117.1 L631.01 117.1 L631.2 117.1 L631.38 117.1 L631.57 117.1 L631.76 117.1 L631.94 117.1 L632.13 117.1 L632.32 117.1 L632.5 117.1 L632.69 117.1 L632.88 117.1 L633.06 117.1 L633.25 117.1 L633.43 117.1 L633.62 117.1 L633.81 117.1 L633.99 117.1 L634.18 117.1 L634.37 117.1 L634.55 117.1 L634.74 117.1 L634.93 117.1 L635.11 117.1 L635.3 117.1 L635.49 117.1 L635.67 117.1 L635.86 117.1 L636.05 117.1 L636.23 117.1 L636.42 117.1 L636.61 117.1 L636.79 117.1 L636.98 117.1 L637.16 117.1 L637.35 117.1 L637.54 117.1 L637.72 117.1 L637.91 117.1 L638.1 117.1 L638.28 117.1 L638.47 117.1 L638.66 117.1 L638.84 117.1 L639.03 117.1 L639.22 117.1 L639.4 117.1 L639.59 117.1 L639.78 117.1 L639.96 117.1 L640.15 117.1 L640.33 117.1 L640.52 117.1 L640.71 117.1 L640.89 117.1 L641.08 117.1 L641.27 117.1 L641.45 117.1 L641.64 117.1 L641.83 117.1 L642.01 117.1 L642.2 117.1" stroke="#00a550" stroke-width="1.9" fill="none" stroke-linejoin="round"/>
<path d="M567.6 44 V117.1 H634.2" stroke="#231f20" stroke-width="1.65" fill="none"/>
<path d="M567.6 35.8 L564 49 L567.6 48.6 L571.2 49 Z" fill="#231f20"/>
<path d="M642.4 117.1 L628.6 113.5 L629.4 117.1 L628.6 120.7 Z" fill="#231f20"/>
<text y="27.3" font-family="'Liberation Serif', serif" font-size="14.2" fill="#231f20" stroke="#231f20" stroke-width="0.2"><tspan x="543.7" textLength="53.6" lengthAdjust="spacingAndGlyphs">Intensity</tspan> <tspan x="602.3" textLength="26.2" lengthAdjust="spacingAndGlyphs">(arb.</tspan> <tspan x="632.5" textLength="14.3" lengthAdjust="spacingAndGlyphs">u.)</tspan></text>
<text transform="translate(561.7 52.1) scale(1.0 1)" font-family="'Liberation Serif', serif" font-size="14.2" text-anchor="end" fill="#231f20" stroke="#231f20" stroke-width="0.2">1</text>
<text transform="translate(561.7 86.55) scale(1.0 1)" font-family="'Liberation Serif', serif" font-size="14.2" text-anchor="end" fill="#231f20" stroke="#231f20" stroke-width="0.2">0.5</text>
<text transform="translate(561.7 121) scale(1.0 1)" font-family="'Liberation Serif', serif" font-size="14.2" text-anchor="end" fill="#231f20" stroke="#231f20" stroke-width="0.2">0</text>
<text transform="translate(567.6 134.6) scale(1.0 1)" font-family="'Liberation Serif', serif" font-size="14.2" text-anchor="middle" fill="#231f20" stroke="#231f20" stroke-width="0.2">–20</text>
<text transform="translate(604.9 134.6) scale(1.0 1)" font-family="'Liberation Serif', serif" font-size="14.2" text-anchor="middle" fill="#231f20" stroke="#231f20" stroke-width="0.2">0</text>
<text transform="translate(642.2 134.6) scale(1.0 1)" font-family="'Liberation Serif', serif" font-size="14.2" text-anchor="middle" fill="#231f20" stroke="#231f20" stroke-width="0.2">20</text>
<text transform="translate(649.6 151.5) scale(1.0 1)" font-family="'Liberation Serif', serif" font-size="14.2" text-anchor="end" fill="#231f20" stroke="#231f20" stroke-width="0.2"><tspan font-style="italic">t</tspan> (fs)</text>
<text transform="translate(622.43 57.4) scale(1.0 1)" font-family="'Liberation Serif', serif" font-size="14.2" text-anchor="start" fill="#231f20" stroke="#231f20" stroke-width="0.2">G</text>
<rect x="689.5" y="36" width="74.6" height="81.1" fill="#fff"/>
<path d="M689.5 48.2 H764.1" stroke="#e5ceb5" stroke-width="1.45" fill="none"/>
<path d="M689.5 82.65 H764.1" stroke="#e5ceb5" stroke-width="1.45" fill="none"/>
<path d="M726.8 36 V117.1" stroke="#e5ceb5" stroke-width="1.45" fill="none"/>
<path d="M689.5 117.1 L689.69 117.1 L689.87 117.1 L690.06 117.09 L690.25 117.08 L690.43 117.08 L690.62 117.07 L690.81 117.06 L690.99 117.04 L691.18 117.03 L691.37 117.01 L691.55 117 L691.74 116.98 L691.92 116.96 L692.11 116.94 L692.3 116.92 L692.48 116.89 L692.67 116.87 L692.86 116.85 L693.04 116.82 L693.23 116.8 L693.42 116.77 L693.6 116.75 L693.79 116.72 L693.98 116.69 L694.16 116.66 L694.35 116.64 L694.54 116.61 L694.72 116.58 L694.91 116.55 L695.09 116.52 L695.28 116.5 L695.47 116.47 L695.65 116.44 L695.84 116.41 L696.03 116.39 L696.21 116.36 L696.4 116.33 L696.59 116.31 L696.77 116.28 L696.96 116.26 L697.15 116.24 L697.33 116.21 L697.52 116.19 L697.71 116.17 L697.89 116.15 L698.08 116.14 L698.27 116.12 L698.45 116.1 L698.64 116.09 L698.82 116.07 L699.01 116.05 L699.2 116.04 L699.38 116.03 L699.57 116.01 L699.76 116 L699.94 115.98 L700.13 115.97 L700.32 115.96 L700.5 115.95 L700.69 115.93 L700.88 115.92 L701.06 115.91 L701.25 115.9 L701.44 115.88 L701.62 115.87 L701.81 115.86 L702 115.85 L702.18 115.84 L702.37 115.82 L702.55 115.81 L702.74 115.8 L702.93 115.79 L703.11 115.77 L703.3 115.76 L703.49 115.75 L703.67 115.73 L703.86 115.72 L704.05 115.7 L704.23 115.69 L704.42 115.67 L704.61 115.66 L704.79 115.64 L704.98 115.62 L705.17 115.61 L705.35 115.59 L705.54 115.57 L705.73 115.55 L705.91 115.53 L706.1 115.51 L706.28 115.49 L706.47 115.47 L706.66 115.45 L706.84 115.42 L707.03 115.4 L707.22 115.37 L707.4 115.34 L707.59 115.31 L707.78 115.28 L707.96 115.25 L708.15 115.21 L708.34 115.18 L708.52 115.14 L708.71 115.1 L708.9 115.06 L709.08 115.02 L709.27 114.98 L709.46 114.94 L709.64 114.89 L709.83 114.85 L710.01 114.8 L710.2 114.75 L710.39 114.7 L710.57 114.65 L710.76 114.6 L710.95 114.54 L711.13 114.49 L711.32 114.43 L711.51 114.38 L711.69 114.32 L711.88 114.26 L712.07 114.2 L712.25 114.14 L712.44 114.07 L712.63 114.01 L712.81 113.94 L713 113.87 L713.19 113.8 L713.37 113.73 L713.56 113.65 L713.75 113.57 L713.93 113.49 L714.12 113.41 L714.3 113.32 L714.49 113.22 L714.68 113.13 L714.86 113.03 L715.05 112.92 L715.24 112.81 L715.42 112.7 L715.61 112.58 L715.8 112.46 L715.98 112.33 L716.17 112.2 L716.36 112.06 L716.54 111.92 L716.73 111.77 L716.92 111.61 L717.1 111.45 L717.29 111.27 L717.47 111.06 L717.66 110.83 L717.85 110.57 L718.03 110.29 L718.22 109.98 L718.41 109.66 L718.59 109.31 L718.78 108.94 L718.97 108.55 L719.15 108.14 L719.34 107.7 L719.53 107.22 L719.71 106.68 L719.9 106.1 L720.09 105.47 L720.27 104.81 L720.46 104.1 L720.65 103.35 L720.83 102.57 L721.02 101.75 L721.2 100.9 L721.39 100.01 L721.58 99.07 L721.76 98.03 L721.95 96.91 L722.14 95.71 L722.32 94.42 L722.51 93.07 L722.7 91.64 L722.88 90.15 L723.07 88.6 L723.26 86.99 L723.44 85.23 L723.63 83.24 L723.82 81.09 L724 78.8 L724.19 76.42 L724.38 74 L724.56 71.58 L724.75 69.21 L724.93 66.94 L725.12 64.79 L725.31 62.79 L725.49 60.83 L725.68 58.91 L725.87 57.03 L726.05 55.18 L726.24 53.38 L726.43 51.61 L726.61 49.89 L726.8 48.2 L726.99 50.16 L727.17 52.09 L727.36 53.99 L727.55 55.86 L727.73 57.7 L727.92 59.5 L728.11 61.27 L728.29 63 L728.48 64.69 L728.66 66.39 L728.85 68.09 L729.04 69.79 L729.22 71.46 L729.41 73.11 L729.6 74.71 L729.78 76.25 L729.97 77.72 L730.16 79.1 L730.34 80.38 L730.53 81.55 L730.72 82.65 L730.9 83.74 L731.09 84.8 L731.28 85.83 L731.46 86.82 L731.65 87.76 L731.84 88.64 L732.02 89.46 L732.21 90.2 L732.39 90.85 L732.58 91.42 L732.77 91.88 L732.95 92.27 L733.14 92.61 L733.33 92.91 L733.51 93.18 L733.7 93.43 L733.89 93.66 L734.07 93.89 L734.26 94.11 L734.45 94.33 L734.63 94.57 L734.82 94.83 L735.01 95.12 L735.19 95.42 L735.38 95.73 L735.57 96.04 L735.75 96.35 L735.94 96.67 L736.12 96.99 L736.31 97.32 L736.5 97.67 L736.68 98.02 L736.87 98.39 L737.06 98.77 L737.24 99.17 L737.43 99.58 L737.62 100.01 L737.8 100.5 L737.99 101.05 L738.18 101.66 L738.36 102.31 L738.55 102.98 L738.74 103.66 L738.92 104.34 L739.11 105 L739.3 105.62 L739.48 106.19 L739.67 106.69 L739.85 107.11 L740.04 107.48 L740.23 107.84 L740.41 108.19 L740.6 108.52 L740.79 108.84 L740.97 109.15 L741.16 109.44 L741.35 109.71 L741.53 109.96 L741.72 110.19 L741.91 110.41 L742.09 110.59 L742.28 110.76 L742.47 110.9 L742.65 111.02 L742.84 111.14 L743.03 111.26 L743.21 111.37 L743.4 111.47 L743.58 111.57 L743.77 111.67 L743.96 111.76 L744.14 111.84 L744.33 111.92 L744.52 111.99 L744.7 112.06 L744.89 112.12 L745.08 112.18 L745.26 112.23 L745.45 112.27 L745.64 112.31 L745.82 112.35 L746.01 112.37 L746.2 112.4 L746.38 112.43 L746.57 112.45 L746.76 112.47 L746.94 112.49 L747.13 112.51 L747.31 112.52 L747.5 112.54 L747.69 112.55 L747.87 112.57 L748.06 112.58 L748.25 112.59 L748.43 112.61 L748.62 112.62 L748.81 112.63 L748.99 112.65 L749.18 112.66 L749.37 112.68 L749.55 112.7 L749.74 112.72 L749.93 112.74 L750.11 112.76 L750.3 112.78 L750.49 112.81 L750.67 112.83 L750.86 112.86 L751.04 112.88 L751.23 112.91 L751.42 112.94 L751.6 112.97 L751.79 113 L751.98 113.03 L752.16 113.06 L752.35 113.09 L752.54 113.12 L752.72 113.15 L752.91 113.19 L753.1 113.22 L753.28 113.25 L753.47 113.29 L753.66 113.32 L753.84 113.36 L754.03 113.4 L754.22 113.43 L754.4 113.47 L754.59 113.51 L754.77 113.54 L754.96 113.58 L755.15 113.62 L755.33 113.66 L755.52 113.7 L755.71 113.73 L755.89 113.77 L756.08 113.81 L756.27 113.85 L756.45 113.89 L756.64 113.93 L756.83 113.97 L757.01 114.01 L757.2 114.06 L757.39 114.1 L757.57 114.15 L757.76 114.2 L757.95 114.25 L758.13 114.3 L758.32 114.35 L758.5 114.4 L758.69 114.45 L758.88 114.51 L759.06 114.56 L759.25 114.62 L759.44 114.67 L759.62 114.73 L759.81 114.78 L760 114.84 L760.18 114.89 L760.37 114.95 L760.56 115 L760.74 115.06 L760.93 115.11 L761.12 115.16 L761.3 115.22 L761.49 115.27 L761.68 115.32 L761.86 115.37 L762.05 115.42 L762.23 115.47 L762.42 115.51 L762.61 115.56 L762.79 115.6 L762.98 115.64 L763.17 115.68 L763.35 115.72 L763.54 115.76 L763.73 115.79 L763.91 115.82 L764.1 115.86" stroke="#0072bc" stroke-width="1.9" fill="none" stroke-linejoin="round"/>
<path d="M689.5 44 V117.1 H756.1" stroke="#231f20" stroke-width="1.65" fill="none"/>
<path d="M689.5 35.8 L685.9 49 L689.5 48.6 L693.1 49 Z" fill="#231f20"/>
<path d="M764.3 117.1 L750.5 113.5 L751.3 117.1 L750.5 120.7 Z" fill="#231f20"/>
<text y="27.3" font-family="'Liberation Serif', serif" font-size="14.2" fill="#231f20" stroke="#231f20" stroke-width="0.2"><tspan x="665.6" textLength="53.6" lengthAdjust="spacingAndGlyphs">Intensity</tspan> <tspan x="724.2" textLength="26.2" lengthAdjust="spacingAndGlyphs">(arb.</tspan> <tspan x="754.4" textLength="14.3" lengthAdjust="spacingAndGlyphs">u.)</tspan></text>
<text transform="translate(683.6 52.1) scale(1.0 1)" font-family="'Liberation Serif', serif" font-size="14.2" text-anchor="end" fill="#231f20" stroke="#231f20" stroke-width="0.2">1</text>
<text transform="translate(683.6 86.55) scale(1.0 1)" font-family="'Liberation Serif', serif" font-size="14.2" text-anchor="end" fill="#231f20" stroke="#231f20" stroke-width="0.2">0.5</text>
<text transform="translate(683.6 121) scale(1.0 1)" font-family="'Liberation Serif', serif" font-size="14.2" text-anchor="end" fill="#231f20" stroke="#231f20" stroke-width="0.2">0</text>
<text transform="translate(689.5 134.6) scale(1.0 1)" font-family="'Liberation Serif', serif" font-size="14.2" text-anchor="middle" fill="#231f20" stroke="#231f20" stroke-width="0.2">–20</text>
<text transform="translate(726.8 134.6) scale(1.0 1)" font-family="'Liberation Serif', serif" font-size="14.2" text-anchor="middle" fill="#231f20" stroke="#231f20" stroke-width="0.2">0</text>
<text transform="translate(764.1 134.6) scale(1.0 1)" font-family="'Liberation Serif', serif" font-size="14.2" text-anchor="middle" fill="#231f20" stroke="#231f20" stroke-width="0.2">20</text>
<text transform="translate(771.5 151.5) scale(1.0 1)" font-family="'Liberation Serif', serif" font-size="14.2" text-anchor="end" fill="#231f20" stroke="#231f20" stroke-width="0.2"><tspan font-style="italic">t</tspan> (fs)</text>
<text transform="translate(744.33 57.4) scale(1.0 1)" font-family="'Liberation Serif', serif" font-size="14.2" text-anchor="start" fill="#231f20" stroke="#231f20" stroke-width="0.2">C</text>
<rect x="64.6" y="189.1" width="317.9" height="287.1" fill="#fff"/>
<path d="M64.6 452.9 H382.5" stroke="#e5ceb5" stroke-width="1.45" fill="none"/>
<path d="M64.6 405.02 H382.5" stroke="#e5ceb5" stroke-width="1.45" fill="none"/>
<path d="M64.6 357.14 H382.5" stroke="#e5ceb5" stroke-width="1.45" fill="none"/>
<path d="M64.6 309.26 H382.5" stroke="#e5ceb5" stroke-width="1.45" fill="none"/>
<path d="M64.6 261.38 H382.5" stroke="#e5ceb5" stroke-width="1.45" fill="none"/>
<path d="M64.6 213.5 H382.5" stroke="#e5ceb5" stroke-width="1.45" fill="none"/>
<path d="M117.58 189.1 V476.2" stroke="#e5ceb5" stroke-width="1.45" fill="none"/>
<path d="M170.57 189.1 V476.2" stroke="#e5ceb5" stroke-width="1.45" fill="none"/>
<path d="M223.55 189.1 V476.2" stroke="#e5ceb5" stroke-width="1.45" fill="none"/>
<path d="M276.53 189.1 V476.2" stroke="#e5ceb5" stroke-width="1.45" fill="none"/>
<path d="M329.52 189.1 V476.2" stroke="#e5ceb5" stroke-width="1.45" fill="none"/>
<rect x="247.6" y="201" width="123.3" height="87.6" fill="#fff"/>
<path d="M64.6 213.5 L65.48 213.5 L66.37 213.5 L67.25 213.5 L68.13 213.5 L69.02 213.5 L69.9 213.5 L70.78 213.5 L71.66 213.5 L72.55 213.5 L73.43 213.5 L74.31 213.5 L75.2 213.5 L76.08 213.5 L76.96 213.5 L77.85 213.5 L78.73 213.5 L79.61 213.5 L80.49 213.5 L81.38 213.5 L82.26 213.5 L83.14 213.5 L84.03 213.5 L84.91 213.5 L85.79 213.5 L86.68 213.5 L87.56 213.5 L88.44 213.5 L89.33 213.5 L90.21 213.5 L91.09 213.5 L91.97 213.5 L92.86 213.5 L93.74 213.5 L94.62 213.5 L95.51 213.5 L96.39 213.5 L97.27 213.5 L98.16 213.5 L99.04 213.5 L99.92 213.5 L100.81 213.5 L101.69 213.5 L102.57 213.5 L103.45 213.5 L104.34 213.5 L105.22 213.5 L106.1 213.5 L106.99 213.5 L107.87 213.5 L108.75 213.5 L109.64 213.5 L110.52 213.5 L111.4 213.5 L112.28 213.5 L113.17 213.5 L114.05 213.5 L114.93 213.5 L115.82 213.5 L116.7 213.5 L117.58 213.5 L118.47 213.5 L119.35 213.5 L120.23 213.5 L121.12 213.5 L122 213.5 L122.88 213.5 L123.76 213.5 L124.65 213.5 L125.53 213.5 L126.41 213.5 L127.3 213.5 L128.18 213.5 L129.06 213.5 L129.95 213.5 L130.83 213.5 L131.71 213.5 L132.6 213.5 L133.48 213.5 L134.36 213.5 L135.24 213.5 L136.13 213.5 L137.01 213.5 L137.89 213.5 L138.78 213.5 L139.66 213.5 L140.54 213.5 L141.43 213.5 L142.31 213.5 L143.19 213.5 L144.07 213.5 L144.96 213.5 L145.84 213.5 L146.72 213.5 L147.61 213.5 L148.49 213.5 L149.37 213.5 L150.26 213.5 L151.14 213.5 L152.02 213.5 L152.91 213.5 L153.79 213.5 L154.67 213.5 L155.55 213.5 L156.44 213.5 L157.32 213.5 L158.2 213.5 L159.09 213.5 L159.97 213.5 L160.85 213.5 L161.74 213.5 L162.62 213.5 L163.5 213.5 L164.39 213.5 L165.27 213.5 L166.15 213.5 L167.03 213.5 L167.92 213.5 L168.8 213.5 L169.68 213.5 L170.57 213.5 L171.45 221.35 L172.33 228.94 L173.22 236.28 L174.1 243.38 L174.98 250.25 L175.86 256.9 L176.75 263.32 L177.63 269.54 L178.51 275.55 L179.4 281.36 L180.28 286.99 L181.16 292.43 L182.05 297.69 L182.93 302.77 L183.81 307.7 L184.7 312.46 L185.58 317.06 L186.46 321.51 L187.34 325.82 L188.23 329.99 L189.11 334.02 L189.99 337.91 L190.88 341.68 L191.76 345.33 L192.64 348.86 L193.53 352.27 L194.41 355.57 L195.29 358.76 L196.18 361.84 L197.06 364.83 L197.94 367.72 L198.82 370.51 L199.71 373.21 L200.59 375.82 L201.47 378.35 L202.36 380.79 L203.24 383.16 L204.12 385.44 L205.01 387.66 L205.89 389.79 L206.77 391.86 L207.66 393.86 L208.54 395.8 L209.42 397.67 L210.3 399.48 L211.19 401.23 L212.07 402.93 L212.95 404.57 L213.84 406.15 L214.72 407.68 L215.6 409.17 L216.49 410.6 L217.37 411.99 L218.25 413.33 L219.13 414.62 L220.02 415.88 L220.9 417.09 L221.78 418.27 L222.67 419.4 L223.55 420.5 L224.43 421.56 L225.32 422.59 L226.2 423.58 L227.08 424.55 L227.97 425.47 L228.85 426.37 L229.73 427.24 L230.61 428.08 L231.5 428.9 L232.38 429.68 L233.26 430.45 L234.15 431.18 L235.03 431.89 L235.91 432.58 L236.8 433.25 L237.68 433.89 L238.56 434.52 L239.44 435.12 L240.33 435.7 L241.21 436.27 L242.09 436.81 L242.98 437.34 L243.86 437.85 L244.74 438.34 L245.63 438.82 L246.51 439.28 L247.39 439.73 L248.28 440.16 L249.16 440.58 L250.04 440.98 L250.92 441.37 L251.81 441.75 L252.69 442.12 L253.57 442.47 L254.46 442.81 L255.34 443.14 L256.22 443.46 L257.11 443.77 L257.99 444.07 L258.87 444.36 L259.76 444.64 L260.64 444.91 L261.52 445.17 L262.4 445.43 L263.29 445.67 L264.17 445.91 L265.05 446.14 L265.94 446.36 L266.82 446.57 L267.7 446.78 L268.59 446.98 L269.47 447.18 L270.35 447.36 L271.24 447.54 L272.12 447.72 L273 447.89 L273.88 448.05 L274.77 448.21 L275.65 448.37 L276.53 448.52 L277.42 448.66 L278.3 448.8 L279.18 448.93 L280.07 449.06 L280.95 449.19 L281.83 449.31 L282.71 449.43 L283.6 449.54 L284.48 449.65 L285.36 449.76 L286.25 449.86 L287.13 449.96 L288.01 450.06 L288.9 450.15 L289.78 450.24 L290.66 450.33 L291.55 450.41 L292.43 450.49 L293.31 450.57 L294.19 450.65 L295.08 450.72 L295.96 450.79 L296.84 450.86 L297.73 450.93 L298.61 450.99 L299.49 451.06 L300.38 451.12 L301.26 451.18 L302.14 451.23 L303.02 451.29 L303.91 451.34 L304.79 451.39 L305.67 451.44 L306.56 451.49 L307.44 451.53 L308.32 451.58 L309.21 451.62 L310.09 451.66 L310.97 451.71 L311.86 451.74 L312.74 451.78 L313.62 451.82 L314.5 451.85 L315.39 451.89 L316.27 451.92 L317.15 451.95 L318.04 451.98 L318.92 452.01 L319.8 452.04 L320.69 452.07 L321.57 452.1 L322.45 452.13 L323.34 452.15 L324.22 452.18 L325.1 452.2 L325.98 452.22 L326.87 452.24 L327.75 452.27 L328.63 452.29 L329.52 452.31 L330.4 452.33 L331.28 452.34 L332.17 452.36 L333.05 452.38 L333.93 452.4 L334.81 452.41 L335.7 452.43 L336.58 452.45 L337.46 452.46 L338.35 452.47 L339.23 452.49 L340.11 452.5 L341 452.52 L341.88 452.53 L342.76 452.54 L343.65 452.55 L344.53 452.56 L345.41 452.57 L346.29 452.59 L347.18 452.6 L348.06 452.61 L348.94 452.61 L349.83 452.62 L350.71 452.63 L351.59 452.64 L352.48 452.65 L353.36 452.66 L354.24 452.67 L355.13 452.67 L356.01 452.68 L356.89 452.69 L357.77 452.7 L358.66 452.7 L359.54 452.71 L360.42 452.72 L361.31 452.72 L362.19 452.73 L363.07 452.73 L363.96 452.74 L364.84 452.74 L365.72 452.75 L366.6 452.75 L367.49 452.76 L368.37 452.76 L369.25 452.77 L370.14 452.77 L371.02 452.78 L371.9 452.78 L372.79 452.78 L373.67 452.79 L374.55 452.79 L375.44 452.8 L376.32 452.8 L377.2 452.8 L378.08 452.81 L378.97 452.81 L379.85 452.81 L380.73 452.81 L381.62 452.82 L382.5 452.82" stroke="#85878a" stroke-width="2" stroke-dasharray="6.3 3.5" fill="none"/>
<path d="M64.6 213.5 L65.48 213.5 L66.37 213.5 L67.25 213.5 L68.13 213.5 L69.02 213.5 L69.9 213.5 L70.78 213.5 L71.66 213.5 L72.55 213.5 L73.43 213.5 L74.31 213.5 L75.2 213.5 L76.08 213.5 L76.96 213.5 L77.85 213.5 L78.73 213.5 L79.61 213.51 L80.49 213.56 L81.38 213.64 L82.26 213.76 L83.14 213.92 L84.03 214.1 L84.91 214.33 L85.79 214.58 L86.68 214.86 L87.56 215.17 L88.44 215.51 L89.33 215.88 L90.21 216.27 L91.09 216.69 L91.97 217.14 L92.86 217.61 L93.74 218.1 L94.62 218.61 L95.51 219.15 L96.39 219.71 L97.27 220.29 L98.16 220.88 L99.04 221.5 L99.92 222.13 L100.81 222.79 L101.69 223.46 L102.57 224.14 L103.45 224.85 L104.34 225.56 L105.22 226.3 L106.1 227.04 L106.99 227.81 L107.87 228.58 L108.75 229.37 L109.64 230.17 L110.52 230.99 L111.4 231.81 L112.28 232.65 L113.17 233.5 L114.05 234.36 L114.93 235.23 L115.82 236.11 L116.7 237 L117.58 237.9 L118.47 238.8 L119.35 239.72 L120.23 240.65 L121.12 241.58 L122 242.52 L122.88 243.47 L123.76 244.43 L124.65 245.39 L125.53 246.37 L126.41 247.34 L127.3 248.33 L128.18 249.32 L129.06 250.32 L129.95 251.32 L130.83 252.33 L131.71 253.34 L132.6 254.36 L133.48 255.39 L134.36 256.42 L135.24 257.45 L136.13 258.49 L137.01 259.54 L137.89 260.59 L138.78 261.64 L139.66 262.7 L140.54 263.76 L141.43 264.82 L142.31 265.89 L143.19 266.96 L144.07 268.04 L144.96 269.12 L145.84 270.2 L146.72 271.28 L147.61 272.37 L148.49 273.46 L149.37 274.56 L150.26 275.65 L151.14 276.75 L152.02 277.85 L152.91 278.96 L153.79 280.07 L154.67 281.17 L155.55 282.29 L156.44 283.4 L157.32 284.52 L158.2 285.63 L159.09 286.75 L159.97 287.88 L160.85 289 L161.74 290.12 L162.62 291.25 L163.5 292.38 L164.39 293.51 L165.27 294.64 L166.15 295.78 L167.03 296.91 L167.92 298.05 L168.8 299.18 L169.68 300.32 L170.57 301.46 L171.45 302.61 L172.33 303.75 L173.22 304.89 L174.1 306.04 L174.98 307.18 L175.86 308.33 L176.75 309.48 L177.63 310.63 L178.51 311.78 L179.4 312.93 L180.28 314.08 L181.16 315.23 L182.05 316.39 L182.93 317.54 L183.81 318.7 L184.7 319.85 L185.58 321.01 L186.46 322.17 L187.34 323.32 L188.23 324.48 L189.11 325.64 L189.99 326.8 L190.88 327.96 L191.76 329.12 L192.64 330.29 L193.53 331.45 L194.41 332.61 L195.29 333.77 L196.18 334.94 L197.06 336.1 L197.94 337.27 L198.82 338.43 L199.71 339.6 L200.59 340.76 L201.47 341.93 L202.36 343.1 L203.24 344.26 L204.12 345.43 L205.01 346.6 L205.89 347.77 L206.77 348.93 L207.66 350.1 L208.54 351.27 L209.42 352.44 L210.3 353.61 L211.19 354.78 L212.07 355.95 L212.95 357.12 L213.84 358.29 L214.72 359.46 L215.6 360.63 L216.49 361.81 L217.37 362.98 L218.25 364.15 L219.13 365.32 L220.02 366.49 L220.9 367.67 L221.78 368.84 L222.67 370.01 L223.55 371.18 L224.43 372.36 L225.32 373.53 L226.2 374.7 L227.08 375.88 L227.97 377.05 L228.85 378.22 L229.73 379.4 L230.61 380.57 L231.5 381.75 L232.38 382.92 L233.26 384.1 L234.15 385.27 L235.03 386.44 L235.91 387.62 L236.8 388.79 L237.68 389.97 L238.56 391.14 L239.44 392.32 L240.33 393.5 L241.21 394.67 L242.09 395.85 L242.98 397.02 L243.86 398.2 L244.74 399.37 L245.63 400.55 L246.51 401.72 L247.39 402.9 L248.28 404.08 L249.16 405.25 L250.04 406.43 L250.92 407.61 L251.81 408.78 L252.69 409.96 L253.57 411.13 L254.46 412.31 L255.34 413.49 L256.22 414.66 L257.11 415.84 L257.99 417.02 L258.87 418.19 L259.76 419.33 L260.64 420.43 L261.52 421.49 L262.4 422.52 L263.29 423.52 L264.17 424.48 L265.05 425.41 L265.94 426.31 L266.82 427.19 L267.7 428.03 L268.59 428.84 L269.47 429.63 L270.35 430.4 L271.24 431.13 L272.12 431.85 L273 432.54 L273.88 433.2 L274.77 433.85 L275.65 434.47 L276.53 435.08 L277.42 435.66 L278.3 436.23 L279.18 436.77 L280.07 437.3 L280.95 437.81 L281.83 438.31 L282.71 438.79 L283.6 439.25 L284.48 439.7 L285.36 440.13 L286.25 440.55 L287.13 440.95 L288.01 441.35 L288.9 441.72 L289.78 442.09 L290.66 442.45 L291.55 442.79 L292.43 443.12 L293.31 443.44 L294.19 443.75 L295.08 444.05 L295.96 444.34 L296.84 444.62 L297.73 444.89 L298.61 445.15 L299.49 445.41 L300.38 445.65 L301.26 445.89 L302.14 446.12 L303.02 446.34 L303.91 446.56 L304.79 446.77 L305.67 446.97 L306.56 447.16 L307.44 447.35 L308.32 447.53 L309.21 447.71 L310.09 447.88 L310.97 448.04 L311.86 448.2 L312.74 448.36 L313.62 448.51 L314.5 448.65 L315.39 448.79 L316.27 448.92 L317.15 449.05 L318.04 449.18 L318.92 449.3 L319.8 449.42 L320.69 449.53 L321.57 449.64 L322.45 449.75 L323.34 449.85 L324.22 449.95 L325.1 450.05 L325.98 450.14 L326.87 450.23 L327.75 450.32 L328.63 450.41 L329.52 450.49 L330.4 450.57 L331.28 450.64 L332.17 450.72 L333.05 450.79 L333.93 450.86 L334.81 450.93 L335.7 450.99 L336.58 451.05 L337.46 451.11 L338.35 451.17 L339.23 451.23 L340.11 451.28 L341 451.34 L341.88 451.39 L342.76 451.44 L343.65 451.49 L344.53 451.53 L345.41 451.58 L346.29 451.62 L347.18 451.66 L348.06 451.7 L348.94 451.74 L349.83 451.78 L350.71 451.82 L351.59 451.85 L352.48 451.89 L353.36 451.92 L354.24 451.95 L355.13 451.98 L356.01 452.01 L356.89 452.04 L357.77 452.07 L358.66 452.1 L359.54 452.12 L360.42 452.15 L361.31 452.17 L362.19 452.2 L363.07 452.22 L363.96 452.24 L364.84 452.26 L365.72 452.29 L366.6 452.31 L367.49 452.32 L368.37 452.34 L369.25 452.36 L370.14 452.38 L371.02 452.4 L371.9 452.41 L372.79 452.43 L373.67 452.44 L374.55 452.46 L375.44 452.47 L376.32 452.49 L377.2 452.5 L378.08 452.51 L378.97 452.53 L379.85 452.54 L380.73 452.55 L381.62 452.56 L382.5 452.57" stroke="#ec1c24" stroke-width="2" fill="none"/>
<path d="M64.6 215.15 L65.48 215.24 L66.37 215.32 L67.25 215.41 L68.13 215.5 L69.02 215.59 L69.9 215.69 L70.78 215.8 L71.66 215.9 L72.55 216.01 L73.43 216.13 L74.31 216.25 L75.2 216.38 L76.08 216.51 L76.96 216.64 L77.85 216.78 L78.73 216.93 L79.61 217.08 L80.49 217.24 L81.38 217.4 L82.26 217.57 L83.14 217.74 L84.03 217.92 L84.91 218.11 L85.79 218.31 L86.68 218.51 L87.56 218.72 L88.44 218.93 L89.33 219.16 L90.21 219.39 L91.09 219.63 L91.97 219.87 L92.86 220.13 L93.74 220.39 L94.62 220.66 L95.51 220.94 L96.39 221.23 L97.27 221.53 L98.16 221.84 L99.04 222.15 L99.92 222.48 L100.81 222.82 L101.69 223.16 L102.57 223.52 L103.45 223.89 L104.34 224.27 L105.22 224.66 L106.1 225.06 L106.99 225.47 L107.87 225.89 L108.75 226.33 L109.64 226.78 L110.52 227.23 L111.4 227.71 L112.28 228.19 L113.17 228.69 L114.05 229.19 L114.93 229.72 L115.82 230.25 L116.7 230.8 L117.58 231.36 L118.47 231.94 L119.35 232.53 L120.23 233.13 L121.12 233.75 L122 234.38 L122.88 235.02 L123.76 235.68 L124.65 236.36 L125.53 237.05 L126.41 237.75 L127.3 238.47 L128.18 239.21 L129.06 239.96 L129.95 240.72 L130.83 241.5 L131.71 242.3 L132.6 243.11 L133.48 243.94 L134.36 244.78 L135.24 245.64 L136.13 246.51 L137.01 247.4 L137.89 248.31 L138.78 249.23 L139.66 250.16 L140.54 251.11 L141.43 252.08 L142.31 253.07 L143.19 254.07 L144.07 255.08 L144.96 256.11 L145.84 257.16 L146.72 258.22 L147.61 259.29 L148.49 260.39 L149.37 261.49 L150.26 262.62 L151.14 263.75 L152.02 264.9 L152.91 266.07 L153.79 267.25 L154.67 268.45 L155.55 269.66 L156.44 270.88 L157.32 272.12 L158.2 273.37 L159.09 274.63 L159.97 275.91 L160.85 277.2 L161.74 278.5 L162.62 279.81 L163.5 281.14 L164.39 282.48 L165.27 283.83 L166.15 285.19 L167.03 286.57 L167.92 287.95 L168.8 289.34 L169.68 290.75 L170.57 292.16 L171.45 293.59 L172.33 295.02 L173.22 296.46 L174.1 297.91 L174.98 299.37 L175.86 300.84 L176.75 302.31 L177.63 303.79 L178.51 305.28 L179.4 306.77 L180.28 308.27 L181.16 309.77 L182.05 311.28 L182.93 312.8 L183.81 314.32 L184.7 315.84 L185.58 317.36 L186.46 318.89 L187.34 320.42 L188.23 321.96 L189.11 323.49 L189.99 325.03 L190.88 326.57 L191.76 328.11 L192.64 329.65 L193.53 331.18 L194.41 332.72 L195.29 334.26 L196.18 335.79 L197.06 337.33 L197.94 338.86 L198.82 340.39 L199.71 341.91 L200.59 343.43 L201.47 344.95 L202.36 346.47 L203.24 347.98 L204.12 349.48 L205.01 350.98 L205.89 352.47 L206.77 353.96 L207.66 355.44 L208.54 356.91 L209.42 358.38 L210.3 359.84 L211.19 361.29 L212.07 362.73 L212.95 364.16 L213.84 365.59 L214.72 367 L215.6 368.41 L216.49 369.81 L217.37 371.19 L218.25 372.57 L219.13 373.94 L220.02 375.29 L220.9 376.64 L221.78 377.97 L222.67 379.29 L223.55 380.6 L224.43 381.9 L225.32 383.18 L226.2 384.46 L227.08 385.72 L227.97 386.96 L228.85 388.2 L229.73 389.42 L230.61 390.63 L231.5 391.82 L232.38 393.01 L233.26 394.17 L234.15 395.33 L235.03 396.47 L235.91 397.6 L236.8 398.71 L237.68 399.81 L238.56 400.89 L239.44 401.96 L240.33 403.01 L241.21 404.06 L242.09 405.08 L242.98 406.09 L243.86 407.09 L244.74 408.08 L245.63 409.04 L246.51 410 L247.39 410.94 L248.28 411.86 L249.16 412.77 L250.04 413.67 L250.92 414.55 L251.81 415.42 L252.69 416.27 L253.57 417.11 L254.46 417.94 L255.34 418.75 L256.22 419.54 L257.11 420.33 L257.99 421.1 L258.87 421.85 L259.76 422.59 L260.64 423.32 L261.52 424.03 L262.4 424.74 L263.29 425.42 L264.17 426.1 L265.05 426.76 L265.94 427.41 L266.82 428.04 L267.7 428.67 L268.59 429.28 L269.47 429.88 L270.35 430.46 L271.24 431.03 L272.12 431.6 L273 432.15 L273.88 432.68 L274.77 433.21 L275.65 433.73 L276.53 434.23 L277.42 434.72 L278.3 435.21 L279.18 435.68 L280.07 436.14 L280.95 436.59 L281.83 437.03 L282.71 437.46 L283.6 437.88 L284.48 438.29 L285.36 438.69 L286.25 439.08 L287.13 439.46 L288.01 439.83 L288.9 440.2 L289.78 440.55 L290.66 440.9 L291.55 441.24 L292.43 441.57 L293.31 441.89 L294.19 442.2 L295.08 442.5 L295.96 442.8 L296.84 443.09 L297.73 443.37 L298.61 443.65 L299.49 443.92 L300.38 444.18 L301.26 444.43 L302.14 444.68 L303.02 444.92 L303.91 445.15 L304.79 445.38 L305.67 445.61 L306.56 445.82 L307.44 446.03 L308.32 446.24 L309.21 446.43 L310.09 446.63 L310.97 446.82 L311.86 447 L312.74 447.18 L313.62 447.35 L314.5 447.52 L315.39 447.68 L316.27 447.84 L317.15 447.99 L318.04 448.14 L318.92 448.29 L319.8 448.43 L320.69 448.57 L321.57 448.7 L322.45 448.83 L323.34 448.96 L324.22 449.08 L325.1 449.2 L325.98 449.31 L326.87 449.42 L327.75 449.53 L328.63 449.64 L329.52 449.74 L330.4 449.84 L331.28 449.93 L332.17 450.03 L333.05 450.12 L333.93 450.2 L334.81 450.29 L335.7 450.37 L336.58 450.45 L337.46 450.53 L338.35 450.6 L339.23 450.68 L340.11 450.75 L341 450.82 L341.88 450.88 L342.76 450.95 L343.65 451.01 L344.53 451.07 L345.41 451.13 L346.29 451.18 L347.18 451.24 L348.06 451.29 L348.94 451.34 L349.83 451.39 L350.71 451.44 L351.59 451.49 L352.48 451.53 L353.36 451.58 L354.24 451.62 L355.13 451.66 L356.01 451.7 L356.89 451.74 L357.77 451.78 L358.66 451.81 L359.54 451.85 L360.42 451.88 L361.31 451.92 L362.19 451.95 L363.07 451.98 L363.96 452.01 L364.84 452.04 L365.72 452.07 L366.6 452.09 L367.49 452.12 L368.37 452.14 L369.25 452.17 L370.14 452.19 L371.02 452.22 L371.9 452.24 L372.79 452.26 L373.67 452.28 L374.55 452.3 L375.44 452.32 L376.32 452.34 L377.2 452.36 L378.08 452.37 L378.97 452.39 L379.85 452.41 L380.73 452.42 L381.62 452.44 L382.5 452.45" stroke="#00a550" stroke-width="2" fill="none"/>
<path d="M64.6 215.65 L65.48 215.68 L66.37 215.71 L67.25 215.74 L68.13 215.77 L69.02 215.81 L69.9 215.84 L70.78 215.87 L71.66 215.91 L72.55 215.94 L73.43 215.98 L74.31 216.02 L75.2 216.06 L76.08 216.09 L76.96 216.13 L77.85 216.17 L78.73 216.21 L79.61 216.26 L80.49 216.3 L81.38 216.34 L82.26 216.39 L83.14 216.43 L84.03 216.47 L84.91 216.52 L85.79 216.57 L86.68 216.61 L87.56 216.66 L88.44 216.71 L89.33 216.75 L90.21 216.8 L91.09 216.85 L91.97 216.9 L92.86 216.95 L93.74 217 L94.62 217.06 L95.51 217.11 L96.39 217.17 L97.27 217.23 L98.16 217.28 L99.04 217.34 L99.92 217.4 L100.81 217.46 L101.69 217.53 L102.57 217.59 L103.45 217.65 L104.34 217.72 L105.22 217.78 L106.1 217.85 L106.99 217.91 L107.87 217.98 L108.75 218.05 L109.64 218.12 L110.52 218.19 L111.4 218.26 L112.28 218.33 L113.17 218.4 L114.05 218.47 L114.93 218.55 L115.82 218.62 L116.7 218.69 L117.58 218.77 L118.47 218.84 L119.35 218.91 L120.23 218.98 L121.12 219.05 L122 219.12 L122.88 219.19 L123.76 219.26 L124.65 219.32 L125.53 219.39 L126.41 219.46 L127.3 219.53 L128.18 219.6 L129.06 219.68 L129.95 219.75 L130.83 219.83 L131.71 219.91 L132.6 219.99 L133.48 220.07 L134.36 220.16 L135.24 220.25 L136.13 220.35 L137.01 220.44 L137.89 220.55 L138.78 220.65 L139.66 220.76 L140.54 220.88 L141.43 221 L142.31 221.13 L143.19 221.26 L144.07 221.4 L144.96 221.55 L145.84 221.73 L146.72 221.92 L147.61 222.13 L148.49 222.37 L149.37 222.62 L150.26 222.89 L151.14 223.17 L152.02 223.47 L152.91 223.78 L153.79 224.11 L154.67 224.46 L155.55 224.81 L156.44 225.18 L157.32 225.55 L158.2 225.94 L159.09 226.33 L159.97 226.74 L160.85 227.18 L161.74 227.67 L162.62 228.22 L163.5 228.81 L164.39 229.44 L165.27 230.09 L166.15 230.77 L167.03 231.48 L167.92 232.24 L168.8 233.08 L169.68 234.01 L170.57 235.05 L171.45 236.33 L172.33 237.88 L173.22 239.56 L174.1 241.3 L174.98 243.17 L175.86 245.19 L176.75 247.36 L177.63 249.71 L178.51 252.22 L179.4 254.88 L180.28 257.71 L181.16 260.7 L182.05 263.87 L182.93 267.3 L183.81 270.81 L184.7 274.23 L185.58 277.63 L186.46 281.01 L187.34 284.28 L188.23 287.44 L189.11 290.5 L189.99 293.49 L190.88 296.41 L191.76 299.26 L192.64 302.07 L193.53 304.84 L194.41 307.57 L195.29 310.27 L196.18 312.92 L197.06 315.53 L197.94 318.09 L198.82 320.61 L199.71 323.09 L200.59 325.52 L201.47 327.92 L202.36 330.26 L203.24 332.57 L204.12 334.83 L205.01 337.04 L205.89 339.22 L206.77 341.35 L207.66 343.44 L208.54 345.48 L209.42 347.49 L210.3 349.45 L211.19 351.38 L212.07 353.26 L212.95 355.1 L213.84 356.91 L214.72 358.67 L215.6 360.4 L216.49 362.09 L217.37 363.75 L218.25 365.37 L219.13 366.95 L220.02 368.5 L220.9 370.01 L221.78 371.49 L222.67 372.94 L223.55 374.36 L224.43 375.74 L225.32 377.09 L226.2 378.42 L227.08 379.71 L227.97 380.98 L228.85 382.21 L229.73 383.42 L230.61 384.6 L231.5 385.76 L232.38 386.89 L233.26 387.99 L234.15 389.07 L235.03 390.13 L235.91 391.16 L236.8 392.17 L237.68 393.16 L238.56 394.12 L239.44 395.07 L240.33 395.99 L241.21 396.89 L242.09 397.78 L242.98 398.64 L243.86 399.49 L244.74 400.32 L245.63 401.13 L246.51 401.92 L247.39 402.69 L248.28 403.45 L249.16 404.2 L250.04 404.93 L250.92 405.64 L251.81 406.34 L252.69 407.03 L253.57 407.7 L254.46 408.35 L255.34 409 L256.22 409.63 L257.11 410.25 L257.99 410.86 L258.87 411.45 L259.76 412.04 L260.64 412.61 L261.52 413.18 L262.4 413.73 L263.29 414.27 L264.17 414.8 L265.05 415.33 L265.94 415.84 L266.82 416.35 L267.7 416.84 L268.59 417.33 L269.47 417.81 L270.35 418.28 L271.24 418.75 L272.12 419.21 L273 419.65 L273.88 420.1 L274.77 420.53 L275.65 420.96 L276.53 421.38 L277.42 421.8 L278.3 422.21 L279.18 422.62 L280.07 423.01 L280.95 423.41 L281.83 423.8 L282.71 424.18 L283.6 424.56 L284.48 424.93 L285.36 425.3 L286.25 425.66 L287.13 426.02 L288.01 426.37 L288.9 426.72 L289.78 427.07 L290.66 427.41 L291.55 427.75 L292.43 428.08 L293.31 428.41 L294.19 428.74 L295.08 429.06 L295.96 429.38 L296.84 429.7 L297.73 430.01 L298.61 430.32 L299.49 430.63 L300.38 430.93 L301.26 431.23 L302.14 431.53 L303.02 431.82 L303.91 432.12 L304.79 432.41 L305.67 432.69 L306.56 432.98 L307.44 433.26 L308.32 433.54 L309.21 433.81 L310.09 434.09 L310.97 434.36 L311.86 434.63 L312.74 434.89 L313.62 435.16 L314.5 435.42 L315.39 435.68 L316.27 435.94 L317.15 436.19 L318.04 436.44 L318.92 436.69 L319.8 436.94 L320.69 437.19 L321.57 437.43 L322.45 437.67 L323.34 437.91 L324.22 438.15 L325.1 438.38 L325.98 438.61 L326.87 438.84 L327.75 439.07 L328.63 439.3 L329.52 439.52 L330.4 439.74 L331.28 439.96 L332.17 440.17 L333.05 440.39 L333.93 440.6 L334.81 440.81 L335.7 441.02 L336.58 441.22 L337.46 441.42 L338.35 441.62 L339.23 441.82 L340.11 442.02 L341 442.21 L341.88 442.4 L342.76 442.59 L343.65 442.78 L344.53 442.96 L345.41 443.14 L346.29 443.32 L347.18 443.5 L348.06 443.67 L348.94 443.84 L349.83 444.01 L350.71 444.18 L351.59 444.34 L352.48 444.5 L353.36 444.66 L354.24 444.82 L355.13 444.97 L356.01 445.13 L356.89 445.28 L357.77 445.42 L358.66 445.57 L359.54 445.71 L360.42 445.85 L361.31 445.99 L362.19 446.12 L363.07 446.26 L363.96 446.39 L364.84 446.51 L365.72 446.64 L366.6 446.76 L367.49 446.88 L368.37 447 L369.25 447.12 L370.14 447.23 L371.02 447.34 L371.9 447.45 L372.79 447.56 L373.67 447.66 L374.55 447.77 L375.44 447.87 L376.32 447.96 L377.2 448.06 L378.08 448.15 L378.97 448.24 L379.85 448.33 L380.73 448.42 L381.62 448.5 L382.5 448.59" stroke="#0072bc" stroke-width="2" fill="none"/>
<path d="M64.6 197.1 V476.2 H374.5" stroke="#231f20" stroke-width="1.4" fill="none"/>
<path d="M64.6 188.8 L60.6 202.6 L64.6 202.1 L68.6 202.6 Z" fill="#231f20"/>
<path d="M382.7 476.2 L368.7 472.2 L369.7 476.2 L368.7 480.2 Z" fill="#231f20"/>
<text transform="translate(13 182.5) scale(0.93 1)" font-family="'Liberation Sans', sans-serif" font-size="19" text-anchor="start" fill="#7a4a10" stroke="#7a4a10" stroke-width="0.5" font-weight="bold">a)</text>
<text y="182.5" font-family="'Liberation Serif', serif" font-size="16.6" fill="#231f20" stroke="#231f20" stroke-width="0.2"><tspan x="37.7" textLength="62.5" lengthAdjust="spacingAndGlyphs">Intensity</tspan> <tspan x="105.6" textLength="31" lengthAdjust="spacingAndGlyphs">(arb.</tspan> <tspan x="140.6" textLength="17.8" lengthAdjust="spacingAndGlyphs">u.)</tspan></text>
<text transform="translate(58.8 457.9) scale(1.0 1)" font-family="'Liberation Serif', serif" font-size="16.6" text-anchor="end" fill="#231f20" stroke="#231f20" stroke-width="0.2">0</text>
<text transform="translate(58.8 410.02) scale(1.0 1)" font-family="'Liberation Serif', serif" font-size="16.6" text-anchor="end" fill="#231f20" stroke="#231f20" stroke-width="0.2">0.2</text>
<text transform="translate(58.8 362.14) scale(1.0 1)" font-family="'Liberation Serif', serif" font-size="16.6" text-anchor="end" fill="#231f20" stroke="#231f20" stroke-width="0.2">0.4</text>
<text transform="translate(58.8 314.26) scale(1.0 1)" font-family="'Liberation Serif', serif" font-size="16.6" text-anchor="end" fill="#231f20" stroke="#231f20" stroke-width="0.2">0.6</text>
<text transform="translate(58.8 266.38) scale(1.0 1)" font-family="'Liberation Serif', serif" font-size="16.6" text-anchor="end" fill="#231f20" stroke="#231f20" stroke-width="0.2">0.8</text>
<text transform="translate(58.8 218.5) scale(1.0 1)" font-family="'Liberation Serif', serif" font-size="16.6" text-anchor="end" fill="#231f20" stroke="#231f20" stroke-width="0.2">1</text>
<text transform="translate(64.6 494.5) scale(1.045 1)" font-family="'Liberation Serif', serif" font-size="16.6" text-anchor="middle" fill="#231f20" stroke="#231f20" stroke-width="0.2">–40</text>
<text transform="translate(117.58 494.5) scale(1.045 1)" font-family="'Liberation Serif', serif" font-size="16.6" text-anchor="middle" fill="#231f20" stroke="#231f20" stroke-width="0.2">–20</text>
<text transform="translate(170.57 494.5) scale(1.045 1)" font-family="'Liberation Serif', serif" font-size="16.6" text-anchor="middle" fill="#231f20" stroke="#231f20" stroke-width="0.2">0</text>
<text transform="translate(223.55 494.5) scale(1.045 1)" font-family="'Liberation Serif', serif" font-size="16.6" text-anchor="middle" fill="#231f20" stroke="#231f20" stroke-width="0.2">20</text>
<text transform="translate(276.53 494.5) scale(1.045 1)" font-family="'Liberation Serif', serif" font-size="16.6" text-anchor="middle" fill="#231f20" stroke="#231f20" stroke-width="0.2">40</text>
<text transform="translate(329.52 494.5) scale(1.045 1)" font-family="'Liberation Serif', serif" font-size="16.6" text-anchor="middle" fill="#231f20" stroke="#231f20" stroke-width="0.2">60</text>
<text transform="translate(382.5 494.5) scale(1.045 1)" font-family="'Liberation Serif', serif" font-size="16.6" text-anchor="middle" fill="#231f20" stroke="#231f20" stroke-width="0.2">80</text>
<text transform="translate(391.4 513.6) scale(1.045 1)" font-family="'Liberation Serif', serif" font-size="16.6" text-anchor="end" fill="#231f20" stroke="#231f20" stroke-width="0.2"><tspan font-style="italic">t</tspan> (fs)</text>
<path d="M251.8 213.7 H292" stroke="#85878a" stroke-width="2" stroke-dasharray="6.3 3.5" stroke-dashoffset="2.2" fill="none"/>
<path d="M252.2 234.4 H291.6" stroke="#ec1c24" stroke-width="2.0" stroke-linecap="round" fill="none"/>
<path d="M252.2 255 H291.6" stroke="#00a550" stroke-width="2.0" stroke-linecap="round" fill="none"/>
<path d="M252.2 275.6 H291.6" stroke="#0072bc" stroke-width="2.0" stroke-linecap="round" fill="none"/>
<text transform="translate(298.3 218.9) scale(1.045 1)" font-family="'Liberation Serif', serif" font-size="16.6" text-anchor="start" fill="#231f20" stroke="#231f20" stroke-width="0.2"><tspan font-style="italic">τ</tspan><tspan font-size="11.12" dy="2.6">0</tspan><tspan dy="-2.6"> </tspan>= 10 fs</text>
<text transform="translate(298.3 239.6) scale(1.045 1)" font-family="'Liberation Serif', serif" font-size="16.6" text-anchor="start" fill="#231f20" stroke="#231f20" stroke-width="0.2"><tspan font-style="italic">τ</tspan><tspan font-size="11.12" dy="2.6">R</tspan><tspan dy="-2.6"> </tspan>= 29 fs</text>
<text transform="translate(298.3 260.2) scale(1.045 1)" font-family="'Liberation Serif', serif" font-size="16.6" text-anchor="start" fill="#231f20" stroke="#231f20" stroke-width="0.2"><tspan font-style="italic">τ</tspan><tspan font-size="11.12" dy="2.6">G</tspan><tspan dy="-2.6"> </tspan>= 26 fs</text>
<text transform="translate(298.3 280.8) scale(1.045 1)" font-family="'Liberation Serif', serif" font-size="16.6" text-anchor="start" fill="#231f20" stroke="#231f20" stroke-width="0.2"><tspan font-style="italic">τ</tspan><tspan font-size="11.12" dy="2.6">C</tspan><tspan dy="-2.6"> </tspan>= 20 fs</text>
<rect x="445.8" y="189.1" width="317.9" height="287.1" fill="#fff"/>
<path d="M445.8 452.9 H763.7" stroke="#e5ceb5" stroke-width="1.45" fill="none"/>
<path d="M445.8 405.02 H763.7" stroke="#e5ceb5" stroke-width="1.45" fill="none"/>
<path d="M445.8 357.14 H763.7" stroke="#e5ceb5" stroke-width="1.45" fill="none"/>
<path d="M445.8 309.26 H763.7" stroke="#e5ceb5" stroke-width="1.45" fill="none"/>
<path d="M445.8 261.38 H763.7" stroke="#e5ceb5" stroke-width="1.45" fill="none"/>
<path d="M445.8 213.5 H763.7" stroke="#e5ceb5" stroke-width="1.45" fill="none"/>
<path d="M498.78 189.1 V476.2" stroke="#e5ceb5" stroke-width="1.45" fill="none"/>
<path d="M551.77 189.1 V476.2" stroke="#e5ceb5" stroke-width="1.45" fill="none"/>
<path d="M604.75 189.1 V476.2" stroke="#e5ceb5" stroke-width="1.45" fill="none"/>
<path d="M657.73 189.1 V476.2" stroke="#e5ceb5" stroke-width="1.45" fill="none"/>
<path d="M710.72 189.1 V476.2" stroke="#e5ceb5" stroke-width="1.45" fill="none"/>
<rect x="628.8" y="201" width="123.3" height="87.6" fill="#fff"/>
<path d="M445.8 213.5 L446.68 213.5 L447.57 213.5 L448.45 213.5 L449.33 213.5 L450.22 213.5 L451.1 213.5 L451.98 213.5 L452.86 213.5 L453.75 213.5 L454.63 213.5 L455.51 213.5 L456.4 213.5 L457.28 213.5 L458.16 213.5 L459.05 213.5 L459.93 213.5 L460.81 213.5 L461.69 213.5 L462.58 213.5 L463.46 213.5 L464.34 213.5 L465.23 213.5 L466.11 213.5 L466.99 213.5 L467.88 213.5 L468.76 213.5 L469.64 213.5 L470.53 213.5 L471.41 213.5 L472.29 213.5 L473.17 213.5 L474.06 213.5 L474.94 213.5 L475.82 213.5 L476.71 213.5 L477.59 213.5 L478.47 213.5 L479.36 213.5 L480.24 213.5 L481.12 213.5 L482.01 213.5 L482.89 213.5 L483.77 213.5 L484.65 213.5 L485.54 213.5 L486.42 213.5 L487.3 213.5 L488.19 213.5 L489.07 213.5 L489.95 213.5 L490.84 213.5 L491.72 213.5 L492.6 213.5 L493.49 213.5 L494.37 213.5 L495.25 213.5 L496.13 213.5 L497.02 213.5 L497.9 213.5 L498.78 213.5 L499.67 213.5 L500.55 213.5 L501.43 213.5 L502.32 213.5 L503.2 213.5 L504.08 213.5 L504.96 213.5 L505.85 213.5 L506.73 213.5 L507.61 213.5 L508.5 213.5 L509.38 213.5 L510.26 213.5 L511.15 213.5 L512.03 213.5 L512.91 213.5 L513.8 213.5 L514.68 213.5 L515.56 213.5 L516.44 213.5 L517.33 213.5 L518.21 213.5 L519.09 213.5 L519.98 213.5 L520.86 213.5 L521.74 213.5 L522.63 213.5 L523.51 213.5 L524.39 213.5 L525.27 213.5 L526.16 213.5 L527.04 213.5 L527.92 213.5 L528.81 213.5 L529.69 213.5 L530.57 213.5 L531.46 213.5 L532.34 213.5 L533.22 213.5 L534.11 213.5 L534.99 213.5 L535.87 213.5 L536.75 213.5 L537.64 213.5 L538.52 213.5 L539.4 213.5 L540.29 213.5 L541.17 213.5 L542.05 213.5 L542.94 213.5 L543.82 213.5 L544.7 213.5 L545.59 213.51 L546.47 213.9 L547.35 214.82 L548.23 216.25 L549.12 218.18 L550 220.6 L550.88 223.48 L551.77 226.81 L552.65 230.57 L553.53 234.76 L554.42 239.36 L555.3 244.35 L556.18 249.72 L557.07 255.46 L557.95 261.55 L558.83 267.82 L559.71 273.89 L560.6 279.75 L561.48 285.43 L562.36 290.92 L563.25 296.23 L564.13 301.37 L565.01 306.34 L565.9 311.14 L566.78 315.79 L567.66 320.28 L568.54 324.63 L569.43 328.84 L570.31 332.9 L571.19 336.84 L572.08 340.64 L572.96 344.32 L573.84 347.88 L574.73 351.32 L575.61 354.65 L576.49 357.88 L577.38 360.99 L578.26 364 L579.14 366.92 L580.02 369.74 L580.91 372.46 L581.79 375.1 L582.67 377.65 L583.56 380.12 L584.44 382.5 L585.32 384.81 L586.21 387.04 L587.09 389.2 L587.97 391.29 L588.86 393.31 L589.74 395.26 L590.62 397.15 L591.5 398.98 L592.39 400.75 L593.27 402.46 L594.15 404.11 L595.04 405.71 L595.92 407.26 L596.8 408.76 L597.69 410.2 L598.57 411.6 L599.45 412.96 L600.33 414.27 L601.22 415.53 L602.1 416.76 L602.98 417.94 L603.87 419.09 L604.75 420.2 L605.63 421.27 L606.52 422.31 L607.4 423.31 L608.28 424.28 L609.17 425.22 L610.05 426.13 L610.93 427 L611.81 427.85 L612.7 428.67 L613.58 429.47 L614.46 430.24 L615.35 430.98 L616.23 431.7 L617.11 432.39 L618 433.06 L618.88 433.71 L619.76 434.34 L620.64 434.95 L621.53 435.54 L622.41 436.11 L623.29 436.66 L624.18 437.19 L625.06 437.71 L625.94 438.21 L626.83 438.69 L627.71 439.15 L628.59 439.6 L629.48 440.04 L630.36 440.46 L631.24 440.87 L632.12 441.26 L633.01 441.65 L633.89 442.01 L634.77 442.37 L635.66 442.72 L636.54 443.05 L637.42 443.37 L638.31 443.69 L639.19 443.99 L640.07 444.28 L640.96 444.56 L641.84 444.84 L642.72 445.1 L643.6 445.36 L644.49 445.6 L645.37 445.84 L646.25 446.07 L647.14 446.3 L648.02 446.51 L648.9 446.72 L649.79 446.93 L650.67 447.12 L651.55 447.31 L652.43 447.49 L653.32 447.67 L654.2 447.84 L655.08 448.01 L655.97 448.17 L656.85 448.32 L657.73 448.47 L658.62 448.62 L659.5 448.76 L660.38 448.9 L661.27 449.03 L662.15 449.15 L663.03 449.28 L663.91 449.4 L664.8 449.51 L665.68 449.62 L666.56 449.73 L667.45 449.83 L668.33 449.93 L669.21 450.03 L670.1 450.12 L670.98 450.22 L671.86 450.3 L672.75 450.39 L673.63 450.47 L674.51 450.55 L675.39 450.63 L676.28 450.7 L677.16 450.77 L678.04 450.84 L678.93 450.91 L679.81 450.98 L680.69 451.04 L681.58 451.1 L682.46 451.16 L683.34 451.22 L684.23 451.27 L685.11 451.33 L685.99 451.38 L686.87 451.43 L687.76 451.48 L688.64 451.52 L689.52 451.57 L690.41 451.61 L691.29 451.65 L692.17 451.69 L693.06 451.73 L693.94 451.77 L694.82 451.81 L695.7 451.84 L696.59 451.88 L697.47 451.91 L698.35 451.94 L699.24 451.98 L700.12 452.01 L701 452.04 L701.89 452.06 L702.77 452.09 L703.65 452.12 L704.54 452.14 L705.42 452.17 L706.3 452.19 L707.18 452.22 L708.07 452.24 L708.95 452.26 L709.83 452.28 L710.72 452.3 L711.6 452.32 L712.48 452.34 L713.37 452.36 L714.25 452.38 L715.13 452.39 L716.01 452.41 L716.9 452.43 L717.78 452.44 L718.66 452.46 L719.55 452.47 L720.43 452.48 L721.31 452.5 L722.2 452.51 L723.08 452.52 L723.96 452.54 L724.85 452.55 L725.73 452.56 L726.61 452.57 L727.49 452.58 L728.38 452.59 L729.26 452.6 L730.14 452.61 L731.03 452.62 L731.91 452.63 L732.79 452.64 L733.68 452.65 L734.56 452.66 L735.44 452.66 L736.33 452.67 L737.21 452.68 L738.09 452.69 L738.97 452.69 L739.86 452.7 L740.74 452.71 L741.62 452.71 L742.51 452.72 L743.39 452.73 L744.27 452.73 L745.16 452.74 L746.04 452.74 L746.92 452.75 L747.8 452.75 L748.69 452.76 L749.57 452.76 L750.45 452.77 L751.34 452.77 L752.22 452.77 L753.1 452.78 L753.99 452.78 L754.87 452.79 L755.75 452.79 L756.64 452.79 L757.52 452.8 L758.4 452.8 L759.28 452.8 L760.17 452.81 L761.05 452.81 L761.93 452.81 L762.82 452.82 L763.7 452.82" stroke="#ec1c24" stroke-width="2" fill="none"/>
<path d="M445.8 213.5 L446.68 213.5 L447.57 213.5 L448.45 213.5 L449.33 213.5 L450.22 213.5 L451.1 213.5 L451.98 213.5 L452.86 213.5 L453.75 213.5 L454.63 213.5 L455.51 213.5 L456.4 213.5 L457.28 213.5 L458.16 213.5 L459.05 213.5 L459.93 213.5 L460.81 213.5 L461.69 213.5 L462.58 213.5 L463.46 213.5 L464.34 213.5 L465.23 213.5 L466.11 213.5 L466.99 213.5 L467.88 213.5 L468.76 213.5 L469.64 213.5 L470.53 213.5 L471.41 213.5 L472.29 213.5 L473.17 213.5 L474.06 213.5 L474.94 213.5 L475.82 213.5 L476.71 213.5 L477.59 213.5 L478.47 213.5 L479.36 213.5 L480.24 213.5 L481.12 213.5 L482.01 213.5 L482.89 213.5 L483.77 213.5 L484.65 213.5 L485.54 213.5 L486.42 213.5 L487.3 213.5 L488.19 213.5 L489.07 213.5 L489.95 213.5 L490.84 213.5 L491.72 213.5 L492.6 213.5 L493.49 213.5 L494.37 213.5 L495.25 213.5 L496.13 213.5 L497.02 213.5 L497.9 213.5 L498.78 213.5 L499.67 213.5 L500.55 213.5 L501.43 213.5 L502.32 213.5 L503.2 213.5 L504.08 213.5 L504.96 213.5 L505.85 213.5 L506.73 213.5 L507.61 213.5 L508.5 213.5 L509.38 213.5 L510.26 213.5 L511.15 213.5 L512.03 213.5 L512.91 213.5 L513.8 213.5 L514.68 213.5 L515.56 213.5 L516.44 213.5 L517.33 213.5 L518.21 213.5 L519.09 213.5 L519.98 213.5 L520.86 213.5 L521.74 213.5 L522.63 213.5 L523.51 213.5 L524.39 213.5 L525.27 213.5 L526.16 213.5 L527.04 213.5 L527.92 213.5 L528.81 213.5 L529.69 213.5 L530.57 213.5 L531.46 213.5 L532.34 213.5 L533.22 213.5 L534.11 213.5 L534.99 213.5 L535.87 213.5 L536.75 213.51 L537.64 213.52 L538.52 213.53 L539.4 213.56 L540.29 213.6 L541.17 213.67 L542.05 213.79 L542.94 213.98 L543.82 214.26 L544.7 214.68 L545.59 215.28 L546.47 216.1 L547.35 217.22 L548.23 218.67 L549.12 220.52 L550 222.8 L550.88 225.56 L551.77 228.8 L552.65 232.51 L553.53 236.68 L554.42 241.26 L555.3 246.18 L556.18 251.38 L557.07 256.8 L557.95 262.34 L558.83 267.96 L559.71 273.58 L560.6 279.16 L561.48 284.66 L562.36 290.05 L563.25 295.31 L564.13 300.43 L565.01 305.4 L565.9 310.22 L566.78 314.89 L567.66 319.41 L568.54 323.79 L569.43 328.02 L570.31 332.11 L571.19 336.07 L572.08 339.9 L572.96 343.61 L573.84 347.19 L574.73 350.65 L575.61 354.01 L576.49 357.25 L577.38 360.38 L578.26 363.42 L579.14 366.35 L580.02 369.19 L580.91 371.93 L581.79 374.59 L582.67 377.15 L583.56 379.64 L584.44 382.04 L585.32 384.36 L586.21 386.61 L587.09 388.78 L587.97 390.89 L588.86 392.92 L589.74 394.88 L590.62 396.79 L591.5 398.63 L592.39 400.41 L593.27 402.13 L594.15 403.79 L595.04 405.4 L595.92 406.96 L596.8 408.46 L597.69 409.92 L598.57 411.33 L599.45 412.69 L600.33 414.01 L601.22 415.29 L602.1 416.52 L602.98 417.71 L603.87 418.87 L604.75 419.98 L605.63 421.06 L606.52 422.1 L607.4 423.11 L608.28 424.09 L609.17 425.03 L610.05 425.95 L610.93 426.83 L611.81 427.69 L612.7 428.51 L613.58 429.31 L614.46 430.09 L615.35 430.83 L616.23 431.56 L617.11 432.26 L618 432.93 L618.88 433.59 L619.76 434.22 L620.64 434.83 L621.53 435.43 L622.41 436 L623.29 436.55 L624.18 437.09 L625.06 437.61 L625.94 438.11 L626.83 438.59 L627.71 439.06 L628.59 439.52 L629.48 439.96 L630.36 440.38 L631.24 440.79 L632.12 441.19 L633.01 441.57 L633.89 441.94 L634.77 442.3 L635.66 442.65 L636.54 442.99 L637.42 443.31 L638.31 443.62 L639.19 443.93 L640.07 444.22 L640.96 444.51 L641.84 444.78 L642.72 445.05 L643.6 445.31 L644.49 445.55 L645.37 445.8 L646.25 446.03 L647.14 446.25 L648.02 446.47 L648.9 446.68 L649.79 446.89 L650.67 447.08 L651.55 447.27 L652.43 447.46 L653.32 447.64 L654.2 447.81 L655.08 447.98 L655.97 448.14 L656.85 448.29 L657.73 448.44 L658.62 448.59 L659.5 448.73 L660.38 448.87 L661.27 449 L662.15 449.13 L663.03 449.25 L663.91 449.37 L664.8 449.49 L665.68 449.6 L666.56 449.71 L667.45 449.81 L668.33 449.91 L669.21 450.01 L670.1 450.11 L670.98 450.2 L671.86 450.29 L672.75 450.37 L673.63 450.46 L674.51 450.54 L675.39 450.61 L676.28 450.69 L677.16 450.76 L678.04 450.83 L678.93 450.9 L679.81 450.96 L680.69 451.03 L681.58 451.09 L682.46 451.15 L683.34 451.21 L684.23 451.26 L685.11 451.31 L685.99 451.37 L686.87 451.42 L687.76 451.47 L688.64 451.51 L689.52 451.56 L690.41 451.6 L691.29 451.64 L692.17 451.69 L693.06 451.73 L693.94 451.76 L694.82 451.8 L695.7 451.84 L696.59 451.87 L697.47 451.91 L698.35 451.94 L699.24 451.97 L700.12 452 L701 452.03 L701.89 452.06 L702.77 452.09 L703.65 452.11 L704.54 452.14 L705.42 452.16 L706.3 452.19 L707.18 452.21 L708.07 452.23 L708.95 452.26 L709.83 452.28 L710.72 452.3 L711.6 452.32 L712.48 452.34 L713.37 452.35 L714.25 452.37 L715.13 452.39 L716.01 452.41 L716.9 452.42 L717.78 452.44 L718.66 452.45 L719.55 452.47 L720.43 452.48 L721.31 452.5 L722.2 452.51 L723.08 452.52 L723.96 452.53 L724.85 452.55 L725.73 452.56 L726.61 452.57 L727.49 452.58 L728.38 452.59 L729.26 452.6 L730.14 452.61 L731.03 452.62 L731.91 452.63 L732.79 452.64 L733.68 452.65 L734.56 452.65 L735.44 452.66 L736.33 452.67 L737.21 452.68 L738.09 452.69 L738.97 452.69 L739.86 452.7 L740.74 452.71 L741.62 452.71 L742.51 452.72 L743.39 452.72 L744.27 452.73 L745.16 452.74 L746.04 452.74 L746.92 452.75 L747.8 452.75 L748.69 452.76 L749.57 452.76 L750.45 452.77 L751.34 452.77 L752.22 452.77 L753.1 452.78 L753.99 452.78 L754.87 452.79 L755.75 452.79 L756.64 452.79 L757.52 452.8 L758.4 452.8 L759.28 452.8 L760.17 452.81 L761.05 452.81 L761.93 452.81 L762.82 452.82 L763.7 452.82" stroke="#00a550" stroke-width="2" fill="none"/>
<path d="M445.8 215.65 L446.68 215.68 L447.57 215.71 L448.45 215.74 L449.33 215.77 L450.22 215.81 L451.1 215.84 L451.98 215.87 L452.86 215.91 L453.75 215.94 L454.63 215.98 L455.51 216.02 L456.4 216.06 L457.28 216.09 L458.16 216.13 L459.05 216.17 L459.93 216.21 L460.81 216.26 L461.69 216.3 L462.58 216.34 L463.46 216.39 L464.34 216.43 L465.23 216.47 L466.11 216.52 L466.99 216.57 L467.88 216.61 L468.76 216.66 L469.64 216.71 L470.53 216.75 L471.41 216.8 L472.29 216.85 L473.17 216.9 L474.06 216.95 L474.94 217 L475.82 217.06 L476.71 217.11 L477.59 217.17 L478.47 217.23 L479.36 217.28 L480.24 217.34 L481.12 217.4 L482.01 217.46 L482.89 217.53 L483.77 217.59 L484.65 217.65 L485.54 217.72 L486.42 217.78 L487.3 217.85 L488.19 217.91 L489.07 217.98 L489.95 218.05 L490.84 218.12 L491.72 218.19 L492.6 218.26 L493.49 218.33 L494.37 218.4 L495.25 218.47 L496.13 218.55 L497.02 218.62 L497.9 218.69 L498.78 218.77 L499.67 218.84 L500.55 218.91 L501.43 218.98 L502.32 219.05 L503.2 219.12 L504.08 219.19 L504.96 219.26 L505.85 219.32 L506.73 219.39 L507.61 219.46 L508.5 219.53 L509.38 219.6 L510.26 219.68 L511.15 219.75 L512.03 219.83 L512.91 219.91 L513.8 219.99 L514.68 220.07 L515.56 220.16 L516.44 220.25 L517.33 220.35 L518.21 220.44 L519.09 220.55 L519.98 220.65 L520.86 220.76 L521.74 220.88 L522.63 221 L523.51 221.13 L524.39 221.26 L525.27 221.4 L526.16 221.55 L527.04 221.73 L527.92 221.92 L528.81 222.13 L529.69 222.37 L530.57 222.62 L531.46 222.89 L532.34 223.17 L533.22 223.47 L534.11 223.78 L534.99 224.11 L535.87 224.46 L536.75 224.81 L537.64 225.18 L538.52 225.55 L539.4 225.94 L540.29 226.33 L541.17 226.74 L542.05 227.18 L542.94 227.67 L543.82 228.22 L544.7 228.81 L545.59 229.44 L546.47 230.09 L547.35 230.77 L548.23 231.48 L549.12 232.24 L550 233.08 L550.88 234.01 L551.77 235.05 L552.65 236.33 L553.53 237.88 L554.42 239.56 L555.3 241.3 L556.18 243.17 L557.07 245.19 L557.95 247.36 L558.83 249.71 L559.71 252.22 L560.6 254.88 L561.48 257.71 L562.36 260.7 L563.25 263.87 L564.13 267.3 L565.01 270.81 L565.9 274.23 L566.78 277.63 L567.66 281.01 L568.54 284.28 L569.43 287.44 L570.31 290.5 L571.19 293.49 L572.08 296.41 L572.96 299.26 L573.84 302.07 L574.73 304.84 L575.61 307.57 L576.49 310.27 L577.38 312.92 L578.26 315.53 L579.14 318.09 L580.02 320.61 L580.91 323.09 L581.79 325.52 L582.67 327.92 L583.56 330.26 L584.44 332.57 L585.32 334.83 L586.21 337.04 L587.09 339.22 L587.97 341.35 L588.86 343.44 L589.74 345.48 L590.62 347.49 L591.5 349.45 L592.39 351.38 L593.27 353.26 L594.15 355.1 L595.04 356.91 L595.92 358.67 L596.8 360.4 L597.69 362.09 L598.57 363.75 L599.45 365.37 L600.33 366.95 L601.22 368.5 L602.1 370.01 L602.98 371.49 L603.87 372.94 L604.75 374.36 L605.63 375.74 L606.52 377.09 L607.4 378.42 L608.28 379.71 L609.17 380.98 L610.05 382.21 L610.93 383.42 L611.81 384.6 L612.7 385.76 L613.58 386.89 L614.46 387.99 L615.35 389.07 L616.23 390.13 L617.11 391.16 L618 392.17 L618.88 393.16 L619.76 394.12 L620.64 395.07 L621.53 395.99 L622.41 396.89 L623.29 397.78 L624.18 398.64 L625.06 399.49 L625.94 400.32 L626.83 401.13 L627.71 401.92 L628.59 402.69 L629.48 403.45 L630.36 404.2 L631.24 404.93 L632.12 405.64 L633.01 406.34 L633.89 407.03 L634.77 407.7 L635.66 408.35 L636.54 409 L637.42 409.63 L638.31 410.25 L639.19 410.86 L640.07 411.45 L640.96 412.04 L641.84 412.61 L642.72 413.18 L643.6 413.73 L644.49 414.27 L645.37 414.8 L646.25 415.33 L647.14 415.84 L648.02 416.35 L648.9 416.84 L649.79 417.33 L650.67 417.81 L651.55 418.28 L652.43 418.75 L653.32 419.21 L654.2 419.65 L655.08 420.1 L655.97 420.53 L656.85 420.96 L657.73 421.38 L658.62 421.8 L659.5 422.21 L660.38 422.62 L661.27 423.01 L662.15 423.41 L663.03 423.8 L663.91 424.18 L664.8 424.56 L665.68 424.93 L666.56 425.3 L667.45 425.66 L668.33 426.02 L669.21 426.37 L670.1 426.72 L670.98 427.07 L671.86 427.41 L672.75 427.75 L673.63 428.08 L674.51 428.41 L675.39 428.74 L676.28 429.06 L677.16 429.38 L678.04 429.7 L678.93 430.01 L679.81 430.32 L680.69 430.63 L681.58 430.93 L682.46 431.23 L683.34 431.53 L684.23 431.82 L685.11 432.12 L685.99 432.41 L686.87 432.69 L687.76 432.98 L688.64 433.26 L689.52 433.54 L690.41 433.81 L691.29 434.09 L692.17 434.36 L693.06 434.63 L693.94 434.89 L694.82 435.16 L695.7 435.42 L696.59 435.68 L697.47 435.94 L698.35 436.19 L699.24 436.44 L700.12 436.69 L701 436.94 L701.89 437.19 L702.77 437.43 L703.65 437.67 L704.54 437.91 L705.42 438.15 L706.3 438.38 L707.18 438.61 L708.07 438.84 L708.95 439.07 L709.83 439.3 L710.72 439.52 L711.6 439.74 L712.48 439.96 L713.37 440.17 L714.25 440.39 L715.13 440.6 L716.01 440.81 L716.9 441.02 L717.78 441.22 L718.66 441.42 L719.55 441.62 L720.43 441.82 L721.31 442.02 L722.2 442.21 L723.08 442.4 L723.96 442.59 L724.85 442.78 L725.73 442.96 L726.61 443.14 L727.49 443.32 L728.38 443.5 L729.26 443.67 L730.14 443.84 L731.03 444.01 L731.91 444.18 L732.79 444.34 L733.68 444.5 L734.56 444.66 L735.44 444.82 L736.33 444.97 L737.21 445.13 L738.09 445.28 L738.97 445.42 L739.86 445.57 L740.74 445.71 L741.62 445.85 L742.51 445.99 L743.39 446.12 L744.27 446.26 L745.16 446.39 L746.04 446.51 L746.92 446.64 L747.8 446.76 L748.69 446.88 L749.57 447 L750.45 447.12 L751.34 447.23 L752.22 447.34 L753.1 447.45 L753.99 447.56 L754.87 447.66 L755.75 447.77 L756.64 447.87 L757.52 447.96 L758.4 448.06 L759.28 448.15 L760.17 448.24 L761.05 448.33 L761.93 448.42 L762.82 448.5 L763.7 448.59" stroke="#0072bc" stroke-width="2" fill="none"/>
<path d="M445.8 197.1 V476.2 H755.7" stroke="#231f20" stroke-width="1.4" fill="none"/>
<path d="M445.8 188.8 L441.8 202.6 L445.8 202.1 L449.8 202.6 Z" fill="#231f20"/>
<path d="M763.9 476.2 L749.9 472.2 L750.9 476.2 L749.9 480.2 Z" fill="#231f20"/>
<text transform="translate(394.2 182.5) scale(0.93 1)" font-family="'Liberation Sans', sans-serif" font-size="19" text-anchor="start" fill="#7a4a10" stroke="#7a4a10" stroke-width="0.5" font-weight="bold">b)</text>
<text y="182.5" font-family="'Liberation Serif', serif" font-size="16.6" fill="#231f20" stroke="#231f20" stroke-width="0.2"><tspan x="418.9" textLength="62.5" lengthAdjust="spacingAndGlyphs">Intensity</tspan> <tspan x="486.8" textLength="31" lengthAdjust="spacingAndGlyphs">(arb.</tspan> <tspan x="521.8" textLength="17.8" lengthAdjust="spacingAndGlyphs">u.)</tspan></text>
<text transform="translate(440 457.9) scale(1.0 1)" font-family="'Liberation Serif', serif" font-size="16.6" text-anchor="end" fill="#231f20" stroke="#231f20" stroke-width="0.2">0</text>
<text transform="translate(440 410.02) scale(1.0 1)" font-family="'Liberation Serif', serif" font-size="16.6" text-anchor="end" fill="#231f20" stroke="#231f20" stroke-width="0.2">0.2</text>
<text transform="translate(440 362.14) scale(1.0 1)" font-family="'Liberation Serif', serif" font-size="16.6" text-anchor="end" fill="#231f20" stroke="#231f20" stroke-width="0.2">0.4</text>
<text transform="translate(440 314.26) scale(1.0 1)" font-family="'Liberation Serif', serif" font-size="16.6" text-anchor="end" fill="#231f20" stroke="#231f20" stroke-width="0.2">0.6</text>
<text transform="translate(440 266.38) scale(1.0 1)" font-family="'Liberation Serif', serif" font-size="16.6" text-anchor="end" fill="#231f20" stroke="#231f20" stroke-width="0.2">0.8</text>
<text transform="translate(440 218.5) scale(1.0 1)" font-family="'Liberation Serif', serif" font-size="16.6" text-anchor="end" fill="#231f20" stroke="#231f20" stroke-width="0.2">1</text>
<text transform="translate(445.8 494.5) scale(1.045 1)" font-family="'Liberation Serif', serif" font-size="16.6" text-anchor="middle" fill="#231f20" stroke="#231f20" stroke-width="0.2">–40</text>
<text transform="translate(498.78 494.5) scale(1.045 1)" font-family="'Liberation Serif', serif" font-size="16.6" text-anchor="middle" fill="#231f20" stroke="#231f20" stroke-width="0.2">–20</text>
<text transform="translate(551.77 494.5) scale(1.045 1)" font-family="'Liberation Serif', serif" font-size="16.6" text-anchor="middle" fill="#231f20" stroke="#231f20" stroke-width="0.2">0</text>
<text transform="translate(604.75 494.5) scale(1.045 1)" font-family="'Liberation Serif', serif" font-size="16.6" text-anchor="middle" fill="#231f20" stroke="#231f20" stroke-width="0.2">20</text>
<text transform="translate(657.73 494.5) scale(1.045 1)" font-family="'Liberation Serif', serif" font-size="16.6" text-anchor="middle" fill="#231f20" stroke="#231f20" stroke-width="0.2">40</text>
<text transform="translate(710.72 494.5) scale(1.045 1)" font-family="'Liberation Serif', serif" font-size="16.6" text-anchor="middle" fill="#231f20" stroke="#231f20" stroke-width="0.2">60</text>
<text transform="translate(763.7 494.5) scale(1.045 1)" font-family="'Liberation Serif', serif" font-size="16.6" text-anchor="middle" fill="#231f20" stroke="#231f20" stroke-width="0.2">80</text>
<text transform="translate(772.6 513.6) scale(1.045 1)" font-family="'Liberation Serif', serif" font-size="16.6" text-anchor="end" fill="#231f20" stroke="#231f20" stroke-width="0.2"><tspan font-style="italic">t</tspan> (fs)</text>
<path d="M633 213.7 H673.2" stroke="#85878a" stroke-width="2" stroke-dasharray="6.3 3.5" stroke-dashoffset="2.2" fill="none"/>
<path d="M633.4 234.4 H672.8" stroke="#ec1c24" stroke-width="2.0" stroke-linecap="round" fill="none"/>
<path d="M633.4 255 H672.8" stroke="#00a550" stroke-width="2.0" stroke-linecap="round" fill="none"/>
<path d="M633.4 275.6 H672.8" stroke="#0072bc" stroke-width="2.0" stroke-linecap="round" fill="none"/>
<text transform="translate(679.5 218.9) scale(1.045 1)" font-family="'Liberation Serif', serif" font-size="16.6" text-anchor="start" fill="#231f20" stroke="#231f20" stroke-width="0.2"><tspan font-style="italic">τ</tspan><tspan font-size="11.12" dy="2.6">0</tspan><tspan dy="-2.6"> </tspan>= 10 fs</text>
<text transform="translate(679.5 239.6) scale(1.045 1)" font-family="'Liberation Serif', serif" font-size="16.6" text-anchor="start" fill="#231f20" stroke="#231f20" stroke-width="0.2"><tspan font-style="italic">τ</tspan><tspan font-size="11.12" dy="2.6">R</tspan><tspan dy="-2.6"> </tspan>= 10 fs</text>
<text transform="translate(679.5 260.2) scale(1.045 1)" font-family="'Liberation Serif', serif" font-size="16.6" text-anchor="start" fill="#231f20" stroke="#231f20" stroke-width="0.2"><tspan font-style="italic">τ</tspan><tspan font-size="11.12" dy="2.6">G</tspan><tspan dy="-2.6"> </tspan>= 10 fs</text>
<text transform="translate(679.5 280.8) scale(1.045 1)" font-family="'Liberation Serif', serif" font-size="16.6" text-anchor="start" fill="#231f20" stroke="#231f20" stroke-width="0.2"><tspan font-style="italic">τ</tspan><tspan font-size="11.12" dy="2.6">C</tspan><tspan dy="-2.6"> </tspan>= 20 fs</text>
<rect x="64.6" y="549.4" width="317.9" height="286.3" fill="#fff"/>
<path d="M64.6 823.2 H382.5" stroke="#e5ceb5" stroke-width="1.45" fill="none"/>
<path d="M64.6 758 H382.5" stroke="#e5ceb5" stroke-width="1.45" fill="none"/>
<path d="M64.6 692.8 H382.5" stroke="#e5ceb5" stroke-width="1.45" fill="none"/>
<path d="M64.6 627.6 H382.5" stroke="#e5ceb5" stroke-width="1.45" fill="none"/>
<path d="M64.6 562.4 H382.5" stroke="#e5ceb5" stroke-width="1.45" fill="none"/>
<path d="M144.07 549.4 V835.7" stroke="#e5ceb5" stroke-width="1.45" fill="none"/>
<path d="M223.55 549.4 V835.7" stroke="#e5ceb5" stroke-width="1.45" fill="none"/>
<path d="M303.02 549.4 V835.7" stroke="#e5ceb5" stroke-width="1.45" fill="none"/>
<rect x="237.6" y="554.2" width="127.5" height="76.4" fill="#fff"/>
<path d="M64.6 562.4 L65.92 562.58 L67.25 563.11 L68.57 564.01 L69.9 565.25 L71.22 566.84 L72.55 568.78 L73.87 571.06 L75.2 573.67 L76.52 576.61 L77.85 579.87 L79.17 583.44 L80.49 587.3 L81.82 591.46 L83.14 595.89 L84.47 600.59 L85.79 605.55 L87.12 610.74 L88.44 616.15 L89.77 621.78 L91.09 627.6 L92.42 633.6 L93.74 639.76 L95.07 646.07 L96.39 652.5 L97.71 659.05 L99.04 665.69 L100.36 672.4 L101.69 679.17 L103.01 685.98 L104.34 692.8 L105.66 699.62 L106.99 706.43 L108.31 713.2 L109.64 719.91 L110.96 726.55 L112.28 733.1 L113.61 739.53 L114.93 745.84 L116.26 752 L117.58 758 L118.91 763.82 L120.23 769.45 L121.56 774.86 L122.88 780.05 L124.21 785.01 L125.53 789.71 L126.86 794.14 L128.18 798.3 L129.5 802.16 L130.83 805.73 L132.15 808.99 L133.48 811.93 L134.8 814.54 L136.13 816.82 L137.45 818.76 L138.78 820.35 L140.1 821.59 L141.43 822.49 L142.75 823.02 L144.07 823.2 L145.4 823.02 L146.72 822.49 L148.05 821.59 L149.37 820.35 L150.7 818.76 L152.02 816.82 L153.35 814.54 L154.67 811.93 L156 808.99 L157.32 805.73 L158.65 802.16 L159.97 798.3 L161.29 794.14 L162.62 789.71 L163.94 785.01 L165.27 780.05 L166.59 774.86 L167.92 769.45 L169.24 763.82 L170.57 758 L171.89 752 L173.22 745.84 L174.54 739.53 L175.86 733.1 L177.19 726.55 L178.51 719.91 L179.84 713.2 L181.16 706.43 L182.49 699.62 L183.81 692.8 L185.14 685.98 L186.46 679.17 L187.79 672.4 L189.11 665.69 L190.44 659.05 L191.76 652.5 L193.08 646.07 L194.41 639.76 L195.73 633.6 L197.06 627.6 L198.38 621.78 L199.71 616.15 L201.03 610.74 L202.36 605.55 L203.68 600.59 L205.01 595.89 L206.33 591.46 L207.66 587.3 L208.98 583.44 L210.3 579.87 L211.63 576.61 L212.95 573.67 L214.28 571.06 L215.6 568.78 L216.93 566.84 L218.25 565.25 L219.58 564.01 L220.9 563.11 L222.23 562.58 L223.55 562.4 L224.87 562.58 L226.2 563.11 L227.52 564.01 L228.85 565.25 L230.17 566.84 L231.5 568.78 L232.82 571.06 L234.15 573.67 L235.47 576.61 L236.8 579.87 L238.12 583.44 L239.44 587.3 L240.77 591.46 L242.09 595.89 L243.42 600.59 L244.74 605.55 L246.07 610.74 L247.39 616.15 L248.72 621.78 L250.04 627.6 L251.37 633.6 L252.69 639.76 L254.02 646.07 L255.34 652.5 L256.66 659.05 L257.99 665.69 L259.31 672.4 L260.64 679.17 L261.96 685.98 L263.29 692.8 L264.61 699.62 L265.94 706.43 L267.26 713.2 L268.59 719.91 L269.91 726.55 L271.24 733.1 L272.56 739.53 L273.88 745.84 L275.21 752 L276.53 758 L277.86 763.82 L279.18 769.45 L280.51 774.86 L281.83 780.05 L283.16 785.01 L284.48 789.71 L285.81 794.14 L287.13 798.3 L288.45 802.16 L289.78 805.73 L291.1 808.99 L292.43 811.93 L293.75 814.54 L295.08 816.82 L296.4 818.76 L297.73 820.35 L299.05 821.59 L300.38 822.49 L301.7 823.02 L303.02 823.2 L304.35 823.02 L305.67 822.49 L307 821.59 L308.32 820.35 L309.65 818.76 L310.97 816.82 L312.3 814.54 L313.62 811.93 L314.95 808.99 L316.27 805.73 L317.6 802.16 L318.92 798.3 L320.24 794.14 L321.57 789.71 L322.89 785.01 L324.22 780.05 L325.54 774.86 L326.87 769.45 L328.19 763.82 L329.52 758 L330.84 752 L332.17 745.84 L333.49 739.53 L334.81 733.1 L336.14 726.55 L337.46 719.91 L338.79 713.2 L340.11 706.43 L341.44 699.62 L342.76 692.8 L344.09 685.98 L345.41 679.17 L346.74 672.4 L348.06 665.69 L349.39 659.05 L350.71 652.5 L352.03 646.07 L353.36 639.76 L354.68 633.6 L356.01 627.6 L357.33 621.78 L358.66 616.15 L359.98 610.74 L361.31 605.55 L362.63 600.59 L363.96 595.89 L365.28 591.46 L366.6 587.3 L367.93 583.44 L369.25 579.87 L370.58 576.61 L371.9 573.67 L373.23 571.06 L374.55 568.78 L375.88 566.84 L377.2 565.25 L378.53 564.01 L379.85 563.11 L381.18 562.58 L382.5 562.4" stroke="#85878a" stroke-width="2" stroke-dasharray="6.3 3.5" fill="none"/>
<path d="M64.6 704.21 L65.92 704.19 L67.25 704.14 L68.57 704.06 L69.9 703.95 L71.22 703.8 L72.55 703.62 L73.87 703.41 L75.2 703.17 L76.52 702.9 L77.85 702.59 L79.17 702.26 L80.49 701.91 L81.82 701.52 L83.14 701.11 L84.47 700.68 L85.79 700.22 L87.12 699.74 L88.44 699.24 L89.77 698.72 L91.09 698.18 L92.42 697.62 L93.74 697.05 L95.07 696.47 L96.39 695.88 L97.71 695.27 L99.04 694.66 L100.36 694.03 L101.69 693.41 L103.01 692.78 L104.34 692.15 L105.66 691.52 L106.99 690.89 L108.31 690.26 L109.64 689.64 L110.96 689.03 L112.28 688.42 L113.61 687.83 L114.93 687.24 L116.26 686.67 L117.58 686.12 L118.91 685.58 L120.23 685.06 L121.56 684.56 L122.88 684.08 L124.21 683.62 L125.53 683.18 L126.86 682.77 L128.18 682.39 L129.5 682.03 L130.83 681.7 L132.15 681.4 L133.48 681.13 L134.8 680.89 L136.13 680.68 L137.45 680.5 L138.78 680.35 L140.1 680.23 L141.43 680.15 L142.75 680.1 L144.07 680.09 L145.4 680.1 L146.72 680.15 L148.05 680.23 L149.37 680.35 L150.7 680.5 L152.02 680.68 L153.35 680.89 L154.67 681.13 L156 681.4 L157.32 681.7 L158.65 682.03 L159.97 682.39 L161.29 682.77 L162.62 683.18 L163.94 683.62 L165.27 684.08 L166.59 684.56 L167.92 685.06 L169.24 685.58 L170.57 686.12 L171.89 686.67 L173.22 687.24 L174.54 687.83 L175.86 688.42 L177.19 689.03 L178.51 689.64 L179.84 690.26 L181.16 690.89 L182.49 691.52 L183.81 692.15 L185.14 692.78 L186.46 693.41 L187.79 694.03 L189.11 694.66 L190.44 695.27 L191.76 695.88 L193.08 696.47 L194.41 697.05 L195.73 697.62 L197.06 698.18 L198.38 698.72 L199.71 699.24 L201.03 699.74 L202.36 700.22 L203.68 700.68 L205.01 701.11 L206.33 701.52 L207.66 701.91 L208.98 702.26 L210.3 702.59 L211.63 702.9 L212.95 703.17 L214.28 703.41 L215.6 703.62 L216.93 703.8 L218.25 703.95 L219.58 704.06 L220.9 704.14 L222.23 704.19 L223.55 704.21 L224.87 704.19 L226.2 704.14 L227.52 704.06 L228.85 703.95 L230.17 703.8 L231.5 703.62 L232.82 703.41 L234.15 703.17 L235.47 702.9 L236.8 702.59 L238.12 702.26 L239.44 701.91 L240.77 701.52 L242.09 701.11 L243.42 700.68 L244.74 700.22 L246.07 699.74 L247.39 699.24 L248.72 698.72 L250.04 698.18 L251.37 697.62 L252.69 697.05 L254.02 696.47 L255.34 695.88 L256.66 695.27 L257.99 694.66 L259.31 694.03 L260.64 693.41 L261.96 692.78 L263.29 692.15 L264.61 691.52 L265.94 690.89 L267.26 690.26 L268.59 689.64 L269.91 689.03 L271.24 688.42 L272.56 687.83 L273.88 687.24 L275.21 686.67 L276.53 686.12 L277.86 685.58 L279.18 685.06 L280.51 684.56 L281.83 684.08 L283.16 683.62 L284.48 683.18 L285.81 682.77 L287.13 682.39 L288.45 682.03 L289.78 681.7 L291.1 681.4 L292.43 681.13 L293.75 680.89 L295.08 680.68 L296.4 680.5 L297.73 680.35 L299.05 680.23 L300.38 680.15 L301.7 680.1 L303.02 680.09 L304.35 680.1 L305.67 680.15 L307 680.23 L308.32 680.35 L309.65 680.5 L310.97 680.68 L312.3 680.89 L313.62 681.13 L314.95 681.4 L316.27 681.7 L317.6 682.03 L318.92 682.39 L320.24 682.77 L321.57 683.18 L322.89 683.62 L324.22 684.08 L325.54 684.56 L326.87 685.06 L328.19 685.58 L329.52 686.12 L330.84 686.67 L332.17 687.24 L333.49 687.83 L334.81 688.42 L336.14 689.03 L337.46 689.64 L338.79 690.26 L340.11 690.89 L341.44 691.52 L342.76 692.15 L344.09 692.78 L345.41 693.41 L346.74 694.03 L348.06 694.66 L349.39 695.27 L350.71 695.88 L352.03 696.47 L353.36 697.05 L354.68 697.62 L356.01 698.18 L357.33 698.72 L358.66 699.24 L359.98 699.74 L361.31 700.22 L362.63 700.68 L363.96 701.11 L365.28 701.52 L366.6 701.91 L367.93 702.26 L369.25 702.59 L370.58 702.9 L371.9 703.17 L373.23 703.41 L374.55 703.62 L375.88 703.8 L377.2 703.95 L378.53 704.06 L379.85 704.14 L381.18 704.19 L382.5 704.21" stroke="#ec1c24" stroke-width="2" fill="none"/>
<path d="M64.6 692.8 L65.92 692.8 L67.25 692.8 L68.57 692.8 L69.9 692.8 L71.22 692.8 L72.55 692.8 L73.87 692.8 L75.2 692.8 L76.52 692.8 L77.85 692.8 L79.17 692.8 L80.49 692.8 L81.82 692.8 L83.14 692.8 L84.47 692.8 L85.79 692.8 L87.12 692.8 L88.44 692.8 L89.77 692.8 L91.09 692.8 L92.42 692.8 L93.74 692.8 L95.07 692.8 L96.39 692.8 L97.71 692.8 L99.04 692.8 L100.36 692.8 L101.69 692.8 L103.01 692.8 L104.34 692.8 L105.66 692.8 L106.99 692.8 L108.31 692.8 L109.64 692.8 L110.96 692.8 L112.28 692.8 L113.61 692.8 L114.93 692.8 L116.26 692.8 L117.58 692.8 L118.91 692.8 L120.23 692.8 L121.56 692.8 L122.88 692.8 L124.21 692.8 L125.53 692.8 L126.86 692.8 L128.18 692.8 L129.5 692.8 L130.83 692.8 L132.15 692.8 L133.48 692.8 L134.8 692.8 L136.13 692.8 L137.45 692.8 L138.78 692.8 L140.1 692.8 L141.43 692.8 L142.75 692.8 L144.07 692.8 L145.4 692.8 L146.72 692.8 L148.05 692.8 L149.37 692.8 L150.7 692.8 L152.02 692.8 L153.35 692.8 L154.67 692.8 L156 692.8 L157.32 692.8 L158.65 692.8 L159.97 692.8 L161.29 692.8 L162.62 692.8 L163.94 692.8 L165.27 692.8 L166.59 692.8 L167.92 692.8 L169.24 692.8 L170.57 692.8 L171.89 692.8 L173.22 692.8 L174.54 692.8 L175.86 692.8 L177.19 692.8 L178.51 692.8 L179.84 692.8 L181.16 692.8 L182.49 692.8 L183.81 692.8 L185.14 692.8 L186.46 692.8 L187.79 692.8 L189.11 692.8 L190.44 692.8 L191.76 692.8 L193.08 692.8 L194.41 692.8 L195.73 692.8 L197.06 692.8 L198.38 692.8 L199.71 692.8 L201.03 692.8 L202.36 692.8 L203.68 692.8 L205.01 692.8 L206.33 692.8 L207.66 692.8 L208.98 692.8 L210.3 692.8 L211.63 692.8 L212.95 692.8 L214.28 692.8 L215.6 692.8 L216.93 692.8 L218.25 692.8 L219.58 692.8 L220.9 692.8 L222.23 692.8 L223.55 692.8 L224.87 692.8 L226.2 692.8 L227.52 692.8 L228.85 692.8 L230.17 692.8 L231.5 692.8 L232.82 692.8 L234.15 692.8 L235.47 692.8 L236.8 692.8 L238.12 692.8 L239.44 692.8 L240.77 692.8 L242.09 692.8 L243.42 692.8 L244.74 692.8 L246.07 692.8 L247.39 692.8 L248.72 692.8 L250.04 692.8 L251.37 692.8 L252.69 692.8 L254.02 692.8 L255.34 692.8 L256.66 692.8 L257.99 692.8 L259.31 692.8 L260.64 692.8 L261.96 692.8 L263.29 692.8 L264.61 692.8 L265.94 692.8 L267.26 692.8 L268.59 692.8 L269.91 692.8 L271.24 692.8 L272.56 692.8 L273.88 692.8 L275.21 692.8 L276.53 692.8 L277.86 692.8 L279.18 692.8 L280.51 692.8 L281.83 692.8 L283.16 692.8 L284.48 692.8 L285.81 692.8 L287.13 692.8 L288.45 692.8 L289.78 692.8 L291.1 692.8 L292.43 692.8 L293.75 692.8 L295.08 692.8 L296.4 692.8 L297.73 692.8 L299.05 692.8 L300.38 692.8 L301.7 692.8 L303.02 692.8 L304.35 692.8 L305.67 692.8 L307 692.8 L308.32 692.8 L309.65 692.8 L310.97 692.8 L312.3 692.8 L313.62 692.8 L314.95 692.8 L316.27 692.8 L317.6 692.8 L318.92 692.8 L320.24 692.8 L321.57 692.8 L322.89 692.8 L324.22 692.8 L325.54 692.8 L326.87 692.8 L328.19 692.8 L329.52 692.8 L330.84 692.8 L332.17 692.8 L333.49 692.8 L334.81 692.8 L336.14 692.8 L337.46 692.8 L338.79 692.8 L340.11 692.8 L341.44 692.8 L342.76 692.8 L344.09 692.8 L345.41 692.8 L346.74 692.8 L348.06 692.8 L349.39 692.8 L350.71 692.8 L352.03 692.8 L353.36 692.8 L354.68 692.8 L356.01 692.8 L357.33 692.8 L358.66 692.8 L359.98 692.8 L361.31 692.8 L362.63 692.8 L363.96 692.8 L365.28 692.8 L366.6 692.8 L367.93 692.8 L369.25 692.8 L370.58 692.8 L371.9 692.8 L373.23 692.8 L374.55 692.8 L375.88 692.8 L377.2 692.8 L378.53 692.8 L379.85 692.8 L381.18 692.8 L382.5 692.8" stroke="#00a550" stroke-width="2" fill="none"/>
<path d="M64.6 651.52 L65.92 652.75 L67.25 654.08 L68.57 655.53 L69.9 657.07 L71.22 658.71 L72.55 660.45 L73.87 662.27 L75.2 664.18 L76.52 666.17 L77.85 668.23 L79.17 670.36 L80.49 672.55 L81.82 674.79 L83.14 677.08 L84.47 679.42 L85.79 681.79 L87.12 684.2 L88.44 686.62 L89.77 689.07 L91.09 691.52 L92.42 693.98 L93.74 696.43 L95.07 698.88 L96.39 701.31 L97.71 703.71 L99.04 706.09 L100.36 708.42 L101.69 710.72 L103.01 712.97 L104.34 715.16 L105.66 717.29 L106.99 719.35 L108.31 721.34 L109.64 723.25 L110.96 725.08 L112.28 726.82 L113.61 728.46 L114.93 730.01 L116.26 731.46 L117.58 732.8 L118.91 734.03 L120.23 735.15 L121.56 736.15 L122.88 737.03 L124.21 737.8 L125.53 738.44 L126.86 738.95 L128.18 739.34 L129.5 739.6 L130.83 739.73 L132.15 739.73 L133.48 739.6 L134.8 739.35 L136.13 738.97 L137.45 738.46 L138.78 737.82 L140.1 737.07 L141.43 736.19 L142.75 735.19 L144.07 734.08 L145.4 732.85 L146.72 731.52 L148.05 730.07 L149.37 728.53 L150.7 726.89 L152.02 725.15 L153.35 723.33 L154.67 721.42 L156 719.43 L157.32 717.37 L158.65 715.24 L159.97 713.05 L161.29 710.81 L162.62 708.52 L163.94 706.18 L165.27 703.81 L166.59 701.4 L167.92 698.98 L169.24 696.53 L170.57 694.08 L171.89 691.62 L173.22 689.17 L174.54 686.72 L175.86 684.29 L177.19 681.89 L178.51 679.51 L179.84 677.18 L181.16 674.88 L182.49 672.63 L183.81 670.44 L185.14 668.31 L186.46 666.25 L187.79 664.26 L189.11 662.35 L190.44 660.52 L191.76 658.78 L193.08 657.14 L194.41 655.59 L195.73 654.14 L197.06 652.8 L198.38 651.57 L199.71 650.45 L201.03 649.45 L202.36 648.57 L203.68 647.8 L205.01 647.16 L206.33 646.65 L207.66 646.26 L208.98 646 L210.3 645.87 L211.63 645.87 L212.95 646 L214.28 646.25 L215.6 646.63 L216.93 647.14 L218.25 647.78 L219.58 648.53 L220.9 649.41 L222.23 650.41 L223.55 651.52 L224.87 652.75 L226.2 654.08 L227.52 655.53 L228.85 657.07 L230.17 658.71 L231.5 660.45 L232.82 662.27 L234.15 664.18 L235.47 666.17 L236.8 668.23 L238.12 670.36 L239.44 672.55 L240.77 674.79 L242.09 677.08 L243.42 679.42 L244.74 681.79 L246.07 684.2 L247.39 686.62 L248.72 689.07 L250.04 691.52 L251.37 693.98 L252.69 696.43 L254.02 698.88 L255.34 701.31 L256.66 703.71 L257.99 706.09 L259.31 708.42 L260.64 710.72 L261.96 712.97 L263.29 715.16 L264.61 717.29 L265.94 719.35 L267.26 721.34 L268.59 723.25 L269.91 725.08 L271.24 726.82 L272.56 728.46 L273.88 730.01 L275.21 731.46 L276.53 732.8 L277.86 734.03 L279.18 735.15 L280.51 736.15 L281.83 737.03 L283.16 737.8 L284.48 738.44 L285.81 738.95 L287.13 739.34 L288.45 739.6 L289.78 739.73 L291.1 739.73 L292.43 739.6 L293.75 739.35 L295.08 738.97 L296.4 738.46 L297.73 737.82 L299.05 737.07 L300.38 736.19 L301.7 735.19 L303.02 734.08 L304.35 732.85 L305.67 731.52 L307 730.07 L308.32 728.53 L309.65 726.89 L310.97 725.15 L312.3 723.33 L313.62 721.42 L314.95 719.43 L316.27 717.37 L317.6 715.24 L318.92 713.05 L320.24 710.81 L321.57 708.52 L322.89 706.18 L324.22 703.81 L325.54 701.4 L326.87 698.98 L328.19 696.53 L329.52 694.08 L330.84 691.62 L332.17 689.17 L333.49 686.72 L334.81 684.29 L336.14 681.89 L337.46 679.51 L338.79 677.18 L340.11 674.88 L341.44 672.63 L342.76 670.44 L344.09 668.31 L345.41 666.25 L346.74 664.26 L348.06 662.35 L349.39 660.52 L350.71 658.78 L352.03 657.14 L353.36 655.59 L354.68 654.14 L356.01 652.8 L357.33 651.57 L358.66 650.45 L359.98 649.45 L361.31 648.57 L362.63 647.8 L363.96 647.16 L365.28 646.65 L366.6 646.26 L367.93 646 L369.25 645.87 L370.58 645.87 L371.9 646 L373.23 646.25 L374.55 646.63 L375.88 647.14 L377.2 647.78 L378.53 648.53 L379.85 649.41 L381.18 650.41 L382.5 651.52" stroke="#0072bc" stroke-width="2" fill="none"/>
<path d="M64.6 557.4 V835.7 H374.5" stroke="#231f20" stroke-width="1.4" fill="none"/>
<path d="M64.6 549.1 L60.6 562.9 L64.6 562.4 L68.6 562.9 Z" fill="#231f20"/>
<path d="M382.7 835.7 L368.7 831.7 L369.7 835.7 L368.7 839.7 Z" fill="#231f20"/>
<text transform="translate(13.2 542.6) scale(0.93 1)" font-family="'Liberation Sans', sans-serif" font-size="19" text-anchor="start" fill="#7a4a10" stroke="#7a4a10" stroke-width="0.5" font-weight="bold">c)</text>
<text y="542.4" font-family="'Liberation Serif', serif" font-size="16.6" fill="#231f20" stroke="#231f20" stroke-width="0.2"><tspan x="37.7" textLength="85" lengthAdjust="spacingAndGlyphs">Normalized</tspan> <tspan x="128.5" textLength="37.3" lengthAdjust="spacingAndGlyphs">value</tspan> <tspan x="171.3" textLength="31" lengthAdjust="spacingAndGlyphs">(arb.</tspan> <tspan x="206.3" textLength="17.4" lengthAdjust="spacingAndGlyphs">u.)</tspan></text>
<text transform="translate(58.8 828.3) scale(1.0 1)" font-family="'Liberation Serif', serif" font-size="16.6" text-anchor="end" fill="#231f20" stroke="#231f20" stroke-width="0.2">–1</text>
<text transform="translate(58.8 763.1) scale(1.0 1)" font-family="'Liberation Serif', serif" font-size="16.6" text-anchor="end" fill="#231f20" stroke="#231f20" stroke-width="0.2">–0.5</text>
<text transform="translate(58.8 697.9) scale(1.0 1)" font-family="'Liberation Serif', serif" font-size="16.6" text-anchor="end" fill="#231f20" stroke="#231f20" stroke-width="0.2">0</text>
<text transform="translate(58.8 632.7) scale(1.0 1)" font-family="'Liberation Serif', serif" font-size="16.6" text-anchor="end" fill="#231f20" stroke="#231f20" stroke-width="0.2">0.5</text>
<text transform="translate(58.8 567.5) scale(1.0 1)" font-family="'Liberation Serif', serif" font-size="16.6" text-anchor="end" fill="#231f20" stroke="#231f20" stroke-width="0.2">1</text>
<text transform="translate(64.6 854.6) scale(1.045 1)" font-family="'Liberation Serif', serif" font-size="16.6" text-anchor="middle" fill="#231f20" stroke="#231f20" stroke-width="0.2">–20</text>
<text transform="translate(144.07 854.6) scale(1.045 1)" font-family="'Liberation Serif', serif" font-size="16.6" text-anchor="middle" fill="#231f20" stroke="#231f20" stroke-width="0.2">–10</text>
<text transform="translate(223.55 854.6) scale(1.045 1)" font-family="'Liberation Serif', serif" font-size="16.6" text-anchor="middle" fill="#231f20" stroke="#231f20" stroke-width="0.2">0</text>
<text transform="translate(303.02 854.6) scale(1.045 1)" font-family="'Liberation Serif', serif" font-size="16.6" text-anchor="middle" fill="#231f20" stroke="#231f20" stroke-width="0.2">10</text>
<text transform="translate(382.5 854.6) scale(1.045 1)" font-family="'Liberation Serif', serif" font-size="16.6" text-anchor="middle" fill="#231f20" stroke="#231f20" stroke-width="0.2">20</text>
<text transform="translate(391.4 874.9) scale(1.045 1)" font-family="'Liberation Serif', serif" font-size="16.6" text-anchor="end" fill="#231f20" stroke="#231f20" stroke-width="0.2"><tspan font-style="italic">t</tspan> (fs)</text>
<path d="M241.6 562.7 H270.2" stroke="#85878a" stroke-width="2" stroke-dasharray="6.3 3.5" stroke-dashoffset="2.2" fill="none"/>
<path d="M242 580.3 H269.8" stroke="#ec1c24" stroke-width="2.0" stroke-linecap="round" fill="none"/>
<path d="M242 597.8 H269.8" stroke="#00a550" stroke-width="2.0" stroke-linecap="round" fill="none"/>
<path d="M242 615.3 H269.8" stroke="#0072bc" stroke-width="2.0" stroke-linecap="round" fill="none"/>
<text transform="translate(276.3 568) scale(1.075 1)" font-family="'Liberation Serif', serif" font-size="13.6" text-anchor="start" fill="#231f20" stroke="#231f20" stroke-width="0.2"><tspan font-style="italic">a</tspan><tspan font-size="9.11" dy="2.6">0</tspan><tspan dy="-2.6"> </tspan>= 1.0</text>
<text transform="translate(276.3 585.6) scale(1.075 1)" font-family="'Liberation Serif', serif" font-size="13.6" text-anchor="start" fill="#231f20" stroke="#231f20" stroke-width="0.2"><tspan font-style="italic">a</tspan><tspan font-size="9.11" dy="2.6">R</tspan><tspan dy="-2.6"> </tspan>= 8.9<tspan dx="2.5">×</tspan><tspan dx="2.5">10<tspan font-size="9" dy="-5.6">–2</tspan></tspan></text>
<text transform="translate(276.3 603.1) scale(1.075 1)" font-family="'Liberation Serif', serif" font-size="13.6" text-anchor="start" fill="#231f20" stroke="#231f20" stroke-width="0.2"><tspan font-style="italic">a</tspan><tspan font-size="9.11" dy="2.6">G</tspan><tspan dy="-2.6"> </tspan>= 1.5<tspan dx="2.5">×</tspan><tspan dx="2.5">10<tspan font-size="9" dy="-5.6">–5</tspan></tspan></text>
<text transform="translate(276.3 620.6) scale(1.075 1)" font-family="'Liberation Serif', serif" font-size="13.6" text-anchor="start" fill="#231f20" stroke="#231f20" stroke-width="0.2"><tspan font-style="italic">a</tspan><tspan font-size="9.11" dy="2.6">C</tspan><tspan dy="-2.6"> </tspan>= 0.35</text>
<rect x="445.8" y="549.4" width="317.9" height="286.3" fill="#fff"/>
<path d="M445.8 823.2 H763.7" stroke="#e5ceb5" stroke-width="1.45" fill="none"/>
<path d="M445.8 758 H763.7" stroke="#e5ceb5" stroke-width="1.45" fill="none"/>
<path d="M445.8 692.8 H763.7" stroke="#e5ceb5" stroke-width="1.45" fill="none"/>
<path d="M445.8 627.6 H763.7" stroke="#e5ceb5" stroke-width="1.45" fill="none"/>
<path d="M445.8 562.4 H763.7" stroke="#e5ceb5" stroke-width="1.45" fill="none"/>
<path d="M525.27 549.4 V835.7" stroke="#e5ceb5" stroke-width="1.45" fill="none"/>
<path d="M604.75 549.4 V835.7" stroke="#e5ceb5" stroke-width="1.45" fill="none"/>
<path d="M684.23 549.4 V835.7" stroke="#e5ceb5" stroke-width="1.45" fill="none"/>
<rect x="633.9" y="554.2" width="99.4" height="71.3" fill="#fff"/>
<path d="M445.8 562.4 L447.12 562.58 L448.45 563.11 L449.77 564.01 L451.1 565.25 L452.42 566.84 L453.75 568.78 L455.07 571.06 L456.4 573.67 L457.72 576.61 L459.05 579.87 L460.37 583.44 L461.69 587.3 L463.02 591.46 L464.34 595.89 L465.67 600.59 L466.99 605.55 L468.32 610.74 L469.64 616.15 L470.97 621.78 L472.29 627.6 L473.62 633.6 L474.94 639.76 L476.27 646.07 L477.59 652.5 L478.91 659.05 L480.24 665.69 L481.56 672.4 L482.89 679.17 L484.21 685.98 L485.54 692.8 L486.86 699.62 L488.19 706.43 L489.51 713.2 L490.84 719.91 L492.16 726.55 L493.49 733.1 L494.81 739.53 L496.13 745.84 L497.46 752 L498.78 758 L500.11 763.82 L501.43 769.45 L502.76 774.86 L504.08 780.05 L505.41 785.01 L506.73 789.71 L508.06 794.14 L509.38 798.3 L510.7 802.16 L512.03 805.73 L513.35 808.99 L514.68 811.93 L516 814.54 L517.33 816.82 L518.65 818.76 L519.98 820.35 L521.3 821.59 L522.63 822.49 L523.95 823.02 L525.27 823.2 L526.6 823.02 L527.92 822.49 L529.25 821.59 L530.57 820.35 L531.9 818.76 L533.22 816.82 L534.55 814.54 L535.87 811.93 L537.2 808.99 L538.52 805.73 L539.85 802.16 L541.17 798.3 L542.49 794.14 L543.82 789.71 L545.14 785.01 L546.47 780.05 L547.79 774.86 L549.12 769.45 L550.44 763.82 L551.77 758 L553.09 752 L554.42 745.84 L555.74 739.53 L557.07 733.1 L558.39 726.55 L559.71 719.91 L561.04 713.2 L562.36 706.43 L563.69 699.62 L565.01 692.8 L566.34 685.98 L567.66 679.17 L568.99 672.4 L570.31 665.69 L571.64 659.05 L572.96 652.5 L574.28 646.07 L575.61 639.76 L576.93 633.6 L578.26 627.6 L579.58 621.78 L580.91 616.15 L582.23 610.74 L583.56 605.55 L584.88 600.59 L586.21 595.89 L587.53 591.46 L588.86 587.3 L590.18 583.44 L591.5 579.87 L592.83 576.61 L594.15 573.67 L595.48 571.06 L596.8 568.78 L598.13 566.84 L599.45 565.25 L600.78 564.01 L602.1 563.11 L603.43 562.58 L604.75 562.4 L606.07 562.58 L607.4 563.11 L608.72 564.01 L610.05 565.25 L611.37 566.84 L612.7 568.78 L614.02 571.06 L615.35 573.67 L616.67 576.61 L618 579.87 L619.32 583.44 L620.64 587.3 L621.97 591.46 L623.29 595.89 L624.62 600.59 L625.94 605.55 L627.27 610.74 L628.59 616.15 L629.92 621.78 L631.24 627.6 L632.57 633.6 L633.89 639.76 L635.22 646.07 L636.54 652.5 L637.86 659.05 L639.19 665.69 L640.51 672.4 L641.84 679.17 L643.16 685.98 L644.49 692.8 L645.81 699.62 L647.14 706.43 L648.46 713.2 L649.79 719.91 L651.11 726.55 L652.43 733.1 L653.76 739.53 L655.08 745.84 L656.41 752 L657.73 758 L659.06 763.82 L660.38 769.45 L661.71 774.86 L663.03 780.05 L664.36 785.01 L665.68 789.71 L667.01 794.14 L668.33 798.3 L669.65 802.16 L670.98 805.73 L672.3 808.99 L673.63 811.93 L674.95 814.54 L676.28 816.82 L677.6 818.76 L678.93 820.35 L680.25 821.59 L681.58 822.49 L682.9 823.02 L684.23 823.2 L685.55 823.02 L686.87 822.49 L688.2 821.59 L689.52 820.35 L690.85 818.76 L692.17 816.82 L693.5 814.54 L694.82 811.93 L696.15 808.99 L697.47 805.73 L698.8 802.16 L700.12 798.3 L701.44 794.14 L702.77 789.71 L704.09 785.01 L705.42 780.05 L706.74 774.86 L708.07 769.45 L709.39 763.82 L710.72 758 L712.04 752 L713.37 745.84 L714.69 739.53 L716.01 733.1 L717.34 726.55 L718.66 719.91 L719.99 713.2 L721.31 706.43 L722.64 699.62 L723.96 692.8 L725.29 685.98 L726.61 679.17 L727.94 672.4 L729.26 665.69 L730.59 659.05 L731.91 652.5 L733.23 646.07 L734.56 639.76 L735.88 633.6 L737.21 627.6 L738.53 621.78 L739.86 616.15 L741.18 610.74 L742.51 605.55 L743.83 600.59 L745.16 595.89 L746.48 591.46 L747.8 587.3 L749.13 583.44 L750.45 579.87 L751.78 576.61 L753.1 573.67 L754.43 571.06 L755.75 568.78 L757.08 566.84 L758.4 565.25 L759.73 564.01 L761.05 563.11 L762.38 562.58 L763.7 562.4" stroke="#85878a" stroke-width="2" stroke-dasharray="6.3 3.5" fill="none"/>
<path d="M445.8 571.53 L447.12 571.69 L448.45 572.19 L449.77 573.02 L451.1 574.18 L452.42 575.66 L453.75 577.46 L455.07 579.58 L456.4 582.01 L457.72 584.75 L459.05 587.78 L460.37 591.09 L461.69 594.69 L463.02 598.55 L464.34 602.68 L465.67 607.05 L466.99 611.65 L468.32 616.48 L469.64 621.52 L470.97 626.75 L472.29 632.16 L473.62 637.74 L474.94 643.47 L476.27 649.34 L477.59 655.32 L478.91 661.41 L480.24 667.59 L481.56 673.83 L482.89 680.12 L484.21 686.45 L485.54 692.8 L486.86 699.15 L488.19 705.48 L489.51 711.77 L490.84 718.01 L492.16 724.19 L493.49 730.28 L494.81 736.26 L496.13 742.13 L497.46 747.86 L498.78 753.44 L500.11 758.85 L501.43 764.08 L502.76 769.12 L504.08 773.95 L505.41 778.55 L506.73 782.92 L508.06 787.05 L509.38 790.91 L510.7 794.51 L512.03 797.82 L513.35 800.85 L514.68 803.59 L516 806.02 L517.33 808.14 L518.65 809.94 L519.98 811.42 L521.3 812.58 L522.63 813.41 L523.95 813.91 L525.27 814.07 L526.6 813.91 L527.92 813.41 L529.25 812.58 L530.57 811.42 L531.9 809.94 L533.22 808.14 L534.55 806.02 L535.87 803.59 L537.2 800.85 L538.52 797.82 L539.85 794.51 L541.17 790.91 L542.49 787.05 L543.82 782.92 L545.14 778.55 L546.47 773.95 L547.79 769.12 L549.12 764.08 L550.44 758.85 L551.77 753.44 L553.09 747.86 L554.42 742.13 L555.74 736.26 L557.07 730.28 L558.39 724.19 L559.71 718.01 L561.04 711.77 L562.36 705.48 L563.69 699.15 L565.01 692.8 L566.34 686.45 L567.66 680.12 L568.99 673.83 L570.31 667.59 L571.64 661.41 L572.96 655.32 L574.28 649.34 L575.61 643.47 L576.93 637.74 L578.26 632.16 L579.58 626.75 L580.91 621.52 L582.23 616.48 L583.56 611.65 L584.88 607.05 L586.21 602.68 L587.53 598.55 L588.86 594.69 L590.18 591.09 L591.5 587.78 L592.83 584.75 L594.15 582.01 L595.48 579.58 L596.8 577.46 L598.13 575.66 L599.45 574.18 L600.78 573.02 L602.1 572.19 L603.43 571.69 L604.75 571.53 L606.07 571.69 L607.4 572.19 L608.72 573.02 L610.05 574.18 L611.37 575.66 L612.7 577.46 L614.02 579.58 L615.35 582.01 L616.67 584.75 L618 587.78 L619.32 591.09 L620.64 594.69 L621.97 598.55 L623.29 602.68 L624.62 607.05 L625.94 611.65 L627.27 616.48 L628.59 621.52 L629.92 626.75 L631.24 632.16 L632.57 637.74 L633.89 643.47 L635.22 649.34 L636.54 655.32 L637.86 661.41 L639.19 667.59 L640.51 673.83 L641.84 680.12 L643.16 686.45 L644.49 692.8 L645.81 699.15 L647.14 705.48 L648.46 711.77 L649.79 718.01 L651.11 724.19 L652.43 730.28 L653.76 736.26 L655.08 742.13 L656.41 747.86 L657.73 753.44 L659.06 758.85 L660.38 764.08 L661.71 769.12 L663.03 773.95 L664.36 778.55 L665.68 782.92 L667.01 787.05 L668.33 790.91 L669.65 794.51 L670.98 797.82 L672.3 800.85 L673.63 803.59 L674.95 806.02 L676.28 808.14 L677.6 809.94 L678.93 811.42 L680.25 812.58 L681.58 813.41 L682.9 813.91 L684.23 814.07 L685.55 813.91 L686.87 813.41 L688.2 812.58 L689.52 811.42 L690.85 809.94 L692.17 808.14 L693.5 806.02 L694.82 803.59 L696.15 800.85 L697.47 797.82 L698.8 794.51 L700.12 790.91 L701.44 787.05 L702.77 782.92 L704.09 778.55 L705.42 773.95 L706.74 769.12 L708.07 764.08 L709.39 758.85 L710.72 753.44 L712.04 747.86 L713.37 742.13 L714.69 736.26 L716.01 730.28 L717.34 724.19 L718.66 718.01 L719.99 711.77 L721.31 705.48 L722.64 699.15 L723.96 692.8 L725.29 686.45 L726.61 680.12 L727.94 673.83 L729.26 667.59 L730.59 661.41 L731.91 655.32 L733.23 649.34 L734.56 643.47 L735.88 637.74 L737.21 632.16 L738.53 626.75 L739.86 621.52 L741.18 616.48 L742.51 611.65 L743.83 607.05 L745.16 602.68 L746.48 598.55 L747.8 594.69 L749.13 591.09 L750.45 587.78 L751.78 584.75 L753.1 582.01 L754.43 579.58 L755.75 577.46 L757.08 575.66 L758.4 574.18 L759.73 573.02 L761.05 572.19 L762.38 571.69 L763.7 571.53" stroke="#ec1c24" stroke-width="2" fill="none"/>
<path d="M445.8 579.35 L447.12 579.51 L448.45 579.97 L449.77 580.75 L451.1 581.83 L452.42 583.22 L453.75 584.9 L455.07 586.89 L456.4 589.16 L457.72 591.72 L459.05 594.55 L460.37 597.65 L461.69 601.02 L463.02 604.63 L464.34 608.49 L465.67 612.58 L466.99 616.89 L468.32 621.4 L469.64 626.12 L470.97 631.01 L472.29 636.08 L473.62 641.3 L474.94 646.66 L476.27 652.14 L477.59 657.74 L478.91 663.44 L480.24 669.21 L481.56 675.05 L482.89 680.94 L484.21 686.86 L485.54 692.8 L486.86 698.74 L488.19 704.66 L489.51 710.55 L490.84 716.39 L492.16 722.16 L493.49 727.86 L494.81 733.46 L496.13 738.94 L497.46 744.3 L498.78 749.52 L500.11 754.59 L501.43 759.48 L502.76 764.2 L504.08 768.71 L505.41 773.02 L506.73 777.11 L508.06 780.97 L509.38 784.58 L510.7 787.95 L512.03 791.05 L513.35 793.88 L514.68 796.44 L516 798.71 L517.33 800.7 L518.65 802.38 L519.98 803.77 L521.3 804.85 L522.63 805.63 L523.95 806.09 L525.27 806.25 L526.6 806.09 L527.92 805.63 L529.25 804.85 L530.57 803.77 L531.9 802.38 L533.22 800.7 L534.55 798.71 L535.87 796.44 L537.2 793.88 L538.52 791.05 L539.85 787.95 L541.17 784.58 L542.49 780.97 L543.82 777.11 L545.14 773.02 L546.47 768.71 L547.79 764.2 L549.12 759.48 L550.44 754.59 L551.77 749.52 L553.09 744.3 L554.42 738.94 L555.74 733.46 L557.07 727.86 L558.39 722.16 L559.71 716.39 L561.04 710.55 L562.36 704.66 L563.69 698.74 L565.01 692.8 L566.34 686.86 L567.66 680.94 L568.99 675.05 L570.31 669.21 L571.64 663.44 L572.96 657.74 L574.28 652.14 L575.61 646.66 L576.93 641.3 L578.26 636.08 L579.58 631.01 L580.91 626.12 L582.23 621.4 L583.56 616.89 L584.88 612.58 L586.21 608.49 L587.53 604.63 L588.86 601.02 L590.18 597.65 L591.5 594.55 L592.83 591.72 L594.15 589.16 L595.48 586.89 L596.8 584.9 L598.13 583.22 L599.45 581.83 L600.78 580.75 L602.1 579.97 L603.43 579.51 L604.75 579.35 L606.07 579.51 L607.4 579.97 L608.72 580.75 L610.05 581.83 L611.37 583.22 L612.7 584.9 L614.02 586.89 L615.35 589.16 L616.67 591.72 L618 594.55 L619.32 597.65 L620.64 601.02 L621.97 604.63 L623.29 608.49 L624.62 612.58 L625.94 616.89 L627.27 621.4 L628.59 626.12 L629.92 631.01 L631.24 636.08 L632.57 641.3 L633.89 646.66 L635.22 652.14 L636.54 657.74 L637.86 663.44 L639.19 669.21 L640.51 675.05 L641.84 680.94 L643.16 686.86 L644.49 692.8 L645.81 698.74 L647.14 704.66 L648.46 710.55 L649.79 716.39 L651.11 722.16 L652.43 727.86 L653.76 733.46 L655.08 738.94 L656.41 744.3 L657.73 749.52 L659.06 754.59 L660.38 759.48 L661.71 764.2 L663.03 768.71 L664.36 773.02 L665.68 777.11 L667.01 780.97 L668.33 784.58 L669.65 787.95 L670.98 791.05 L672.3 793.88 L673.63 796.44 L674.95 798.71 L676.28 800.7 L677.6 802.38 L678.93 803.77 L680.25 804.85 L681.58 805.63 L682.9 806.09 L684.23 806.25 L685.55 806.09 L686.87 805.63 L688.2 804.85 L689.52 803.77 L690.85 802.38 L692.17 800.7 L693.5 798.71 L694.82 796.44 L696.15 793.88 L697.47 791.05 L698.8 787.95 L700.12 784.58 L701.44 780.97 L702.77 777.11 L704.09 773.02 L705.42 768.71 L706.74 764.2 L708.07 759.48 L709.39 754.59 L710.72 749.52 L712.04 744.3 L713.37 738.94 L714.69 733.46 L716.01 727.86 L717.34 722.16 L718.66 716.39 L719.99 710.55 L721.31 704.66 L722.64 698.74 L723.96 692.8 L725.29 686.86 L726.61 680.94 L727.94 675.05 L729.26 669.21 L730.59 663.44 L731.91 657.74 L733.23 652.14 L734.56 646.66 L735.88 641.3 L737.21 636.08 L738.53 631.01 L739.86 626.12 L741.18 621.4 L742.51 616.89 L743.83 612.58 L745.16 608.49 L746.48 604.63 L747.8 601.02 L749.13 597.65 L750.45 594.55 L751.78 591.72 L753.1 589.16 L754.43 586.89 L755.75 584.9 L757.08 583.22 L758.4 581.83 L759.73 580.75 L761.05 579.97 L762.38 579.51 L763.7 579.35" stroke="#00a550" stroke-width="2" fill="none"/>
<path d="M445.8 651.52 L447.12 652.75 L448.45 654.08 L449.77 655.53 L451.1 657.07 L452.42 658.71 L453.75 660.45 L455.07 662.27 L456.4 664.18 L457.72 666.17 L459.05 668.23 L460.37 670.36 L461.69 672.55 L463.02 674.79 L464.34 677.08 L465.67 679.42 L466.99 681.79 L468.32 684.2 L469.64 686.62 L470.97 689.07 L472.29 691.52 L473.62 693.98 L474.94 696.43 L476.27 698.88 L477.59 701.31 L478.91 703.71 L480.24 706.09 L481.56 708.42 L482.89 710.72 L484.21 712.97 L485.54 715.16 L486.86 717.29 L488.19 719.35 L489.51 721.34 L490.84 723.25 L492.16 725.08 L493.49 726.82 L494.81 728.46 L496.13 730.01 L497.46 731.46 L498.78 732.8 L500.11 734.03 L501.43 735.15 L502.76 736.15 L504.08 737.03 L505.41 737.8 L506.73 738.44 L508.06 738.95 L509.38 739.34 L510.7 739.6 L512.03 739.73 L513.35 739.73 L514.68 739.6 L516 739.35 L517.33 738.97 L518.65 738.46 L519.98 737.82 L521.3 737.07 L522.63 736.19 L523.95 735.19 L525.27 734.08 L526.6 732.85 L527.92 731.52 L529.25 730.07 L530.57 728.53 L531.9 726.89 L533.22 725.15 L534.55 723.33 L535.87 721.42 L537.2 719.43 L538.52 717.37 L539.85 715.24 L541.17 713.05 L542.49 710.81 L543.82 708.52 L545.14 706.18 L546.47 703.81 L547.79 701.4 L549.12 698.98 L550.44 696.53 L551.77 694.08 L553.09 691.62 L554.42 689.17 L555.74 686.72 L557.07 684.29 L558.39 681.89 L559.71 679.51 L561.04 677.18 L562.36 674.88 L563.69 672.63 L565.01 670.44 L566.34 668.31 L567.66 666.25 L568.99 664.26 L570.31 662.35 L571.64 660.52 L572.96 658.78 L574.28 657.14 L575.61 655.59 L576.93 654.14 L578.26 652.8 L579.58 651.57 L580.91 650.45 L582.23 649.45 L583.56 648.57 L584.88 647.8 L586.21 647.16 L587.53 646.65 L588.86 646.26 L590.18 646 L591.5 645.87 L592.83 645.87 L594.15 646 L595.48 646.25 L596.8 646.63 L598.13 647.14 L599.45 647.78 L600.78 648.53 L602.1 649.41 L603.43 650.41 L604.75 651.52 L606.07 652.75 L607.4 654.08 L608.72 655.53 L610.05 657.07 L611.37 658.71 L612.7 660.45 L614.02 662.27 L615.35 664.18 L616.67 666.17 L618 668.23 L619.32 670.36 L620.64 672.55 L621.97 674.79 L623.29 677.08 L624.62 679.42 L625.94 681.79 L627.27 684.2 L628.59 686.62 L629.92 689.07 L631.24 691.52 L632.57 693.98 L633.89 696.43 L635.22 698.88 L636.54 701.31 L637.86 703.71 L639.19 706.09 L640.51 708.42 L641.84 710.72 L643.16 712.97 L644.49 715.16 L645.81 717.29 L647.14 719.35 L648.46 721.34 L649.79 723.25 L651.11 725.08 L652.43 726.82 L653.76 728.46 L655.08 730.01 L656.41 731.46 L657.73 732.8 L659.06 734.03 L660.38 735.15 L661.71 736.15 L663.03 737.03 L664.36 737.8 L665.68 738.44 L667.01 738.95 L668.33 739.34 L669.65 739.6 L670.98 739.73 L672.3 739.73 L673.63 739.6 L674.95 739.35 L676.28 738.97 L677.6 738.46 L678.93 737.82 L680.25 737.07 L681.58 736.19 L682.9 735.19 L684.23 734.08 L685.55 732.85 L686.87 731.52 L688.2 730.07 L689.52 728.53 L690.85 726.89 L692.17 725.15 L693.5 723.33 L694.82 721.42 L696.15 719.43 L697.47 717.37 L698.8 715.24 L700.12 713.05 L701.44 710.81 L702.77 708.52 L704.09 706.18 L705.42 703.81 L706.74 701.4 L708.07 698.98 L709.39 696.53 L710.72 694.08 L712.04 691.62 L713.37 689.17 L714.69 686.72 L716.01 684.29 L717.34 681.89 L718.66 679.51 L719.99 677.18 L721.31 674.88 L722.64 672.63 L723.96 670.44 L725.29 668.31 L726.61 666.25 L727.94 664.26 L729.26 662.35 L730.59 660.52 L731.91 658.78 L733.23 657.14 L734.56 655.59 L735.88 654.14 L737.21 652.8 L738.53 651.57 L739.86 650.45 L741.18 649.45 L742.51 648.57 L743.83 647.8 L745.16 647.16 L746.48 646.65 L747.8 646.26 L749.13 646 L750.45 645.87 L751.78 645.87 L753.1 646 L754.43 646.25 L755.75 646.63 L757.08 647.14 L758.4 647.78 L759.73 648.53 L761.05 649.41 L762.38 650.41 L763.7 651.52" stroke="#0072bc" stroke-width="2" fill="none"/>
<path d="M445.8 557.4 V835.7 H755.7" stroke="#231f20" stroke-width="1.4" fill="none"/>
<path d="M445.8 549.1 L441.8 562.9 L445.8 562.4 L449.8 562.9 Z" fill="#231f20"/>
<path d="M763.9 835.7 L749.9 831.7 L750.9 835.7 L749.9 839.7 Z" fill="#231f20"/>
<text transform="translate(394.4 542.6) scale(0.93 1)" font-family="'Liberation Sans', sans-serif" font-size="19" text-anchor="start" fill="#7a4a10" stroke="#7a4a10" stroke-width="0.5" font-weight="bold">d)</text>
<text y="542.4" font-family="'Liberation Serif', serif" font-size="16.6" fill="#231f20" stroke="#231f20" stroke-width="0.2"><tspan x="418.9" textLength="85" lengthAdjust="spacingAndGlyphs">Normalized</tspan> <tspan x="509.7" textLength="37.3" lengthAdjust="spacingAndGlyphs">value</tspan> <tspan x="552.5" textLength="31" lengthAdjust="spacingAndGlyphs">(arb.</tspan> <tspan x="587.5" textLength="17.4" lengthAdjust="spacingAndGlyphs">u.)</tspan></text>
<text transform="translate(440 828.3) scale(1.0 1)" font-family="'Liberation Serif', serif" font-size="16.6" text-anchor="end" fill="#231f20" stroke="#231f20" stroke-width="0.2">–1</text>
<text transform="translate(440 763.1) scale(1.0 1)" font-family="'Liberation Serif', serif" font-size="16.6" text-anchor="end" fill="#231f20" stroke="#231f20" stroke-width="0.2">–0.5</text>
<text transform="translate(440 697.9) scale(1.0 1)" font-family="'Liberation Serif', serif" font-size="16.6" text-anchor="end" fill="#231f20" stroke="#231f20" stroke-width="0.2">0</text>
<text transform="translate(440 632.7) scale(1.0 1)" font-family="'Liberation Serif', serif" font-size="16.6" text-anchor="end" fill="#231f20" stroke="#231f20" stroke-width="0.2">0.5</text>
<text transform="translate(440 567.5) scale(1.0 1)" font-family="'Liberation Serif', serif" font-size="16.6" text-anchor="end" fill="#231f20" stroke="#231f20" stroke-width="0.2">1</text>
<text transform="translate(445.8 854.6) scale(1.045 1)" font-family="'Liberation Serif', serif" font-size="16.6" text-anchor="middle" fill="#231f20" stroke="#231f20" stroke-width="0.2">–20</text>
<text transform="translate(525.27 854.6) scale(1.045 1)" font-family="'Liberation Serif', serif" font-size="16.6" text-anchor="middle" fill="#231f20" stroke="#231f20" stroke-width="0.2">–10</text>
<text transform="translate(604.75 854.6) scale(1.045 1)" font-family="'Liberation Serif', serif" font-size="16.6" text-anchor="middle" fill="#231f20" stroke="#231f20" stroke-width="0.2">0</text>
<text transform="translate(684.23 854.6) scale(1.045 1)" font-family="'Liberation Serif', serif" font-size="16.6" text-anchor="middle" fill="#231f20" stroke="#231f20" stroke-width="0.2">10</text>
<text transform="translate(763.7 854.6) scale(1.045 1)" font-family="'Liberation Serif', serif" font-size="16.6" text-anchor="middle" fill="#231f20" stroke="#231f20" stroke-width="0.2">20</text>
<text transform="translate(772.6 874.9) scale(1.045 1)" font-family="'Liberation Serif', serif" font-size="16.6" text-anchor="end" fill="#231f20" stroke="#231f20" stroke-width="0.2"><tspan font-style="italic">t</tspan> (fs)</text>
<path d="M637.9 562.7 H666.9" stroke="#85878a" stroke-width="2" stroke-dasharray="6.3 3.5" stroke-dashoffset="2.2" fill="none"/>
<path d="M638.3 580.3 H666.5" stroke="#ec1c24" stroke-width="2.0" stroke-linecap="round" fill="none"/>
<path d="M638.3 597.8 H666.5" stroke="#00a550" stroke-width="2.0" stroke-linecap="round" fill="none"/>
<path d="M638.3 615.3 H666.5" stroke="#0072bc" stroke-width="2.0" stroke-linecap="round" fill="none"/>
<text transform="translate(673 568) scale(1.075 1)" font-family="'Liberation Serif', serif" font-size="13.6" text-anchor="start" fill="#231f20" stroke="#231f20" stroke-width="0.2"><tspan font-style="italic">a</tspan><tspan font-size="9.11" dy="2.6">0</tspan><tspan dy="-2.6"> </tspan>= 1.0</text>
<text transform="translate(673 585.6) scale(1.075 1)" font-family="'Liberation Serif', serif" font-size="13.6" text-anchor="start" fill="#231f20" stroke="#231f20" stroke-width="0.2"><tspan font-style="italic">a</tspan><tspan font-size="9.11" dy="2.6">R</tspan><tspan dy="-2.6"> </tspan>= 0.93</text>
<text transform="translate(673 603.1) scale(1.075 1)" font-family="'Liberation Serif', serif" font-size="13.6" text-anchor="start" fill="#231f20" stroke="#231f20" stroke-width="0.2"><tspan font-style="italic">a</tspan><tspan font-size="9.11" dy="2.6">G</tspan><tspan dy="-2.6"> </tspan>= 0.87</text>
<text transform="translate(673 620.6) scale(1.075 1)" font-family="'Liberation Serif', serif" font-size="13.6" text-anchor="start" fill="#231f20" stroke="#231f20" stroke-width="0.2"><tspan font-style="italic">a</tspan><tspan font-size="9.11" dy="2.6">C</tspan><tspan dy="-2.6"> </tspan>= 0.35</text>
</svg>
</body></html>
